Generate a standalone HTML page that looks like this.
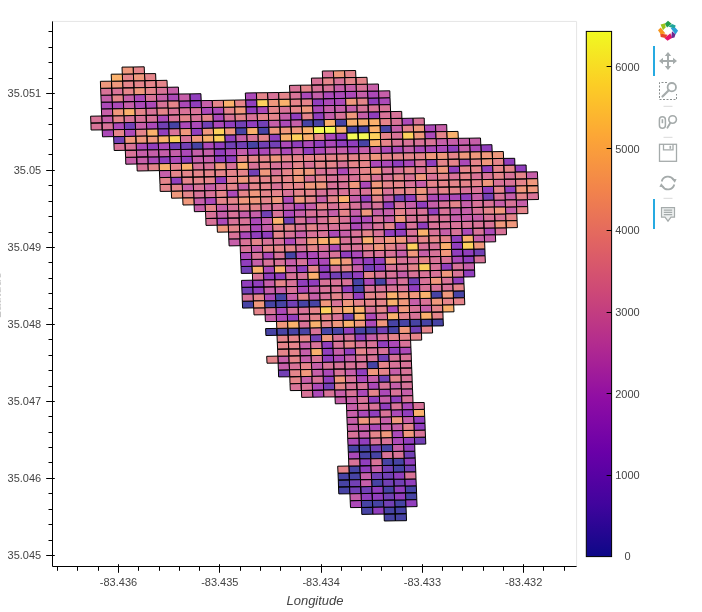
<!DOCTYPE html>
<html lang="en"><head><meta charset="utf-8"><title>Bokeh Plot</title>
<style>
html,body{margin:0;padding:0;background:#fff;}
body{width:702px;height:612px;overflow:hidden;font-family:"Liberation Sans",Helvetica,Arial,sans-serif;}
svg{display:block;position:absolute;left:0;top:0;}
.tl{font-size:11px;fill:#444;}
.al{font-size:13px;font-style:italic;fill:#444;}
.c{stroke:#000;stroke-width:1;stroke-linejoin:miter;}
</style></head><body>
<svg width="702" height="612" viewBox="0 0 702 612" font-family="Liberation Sans, Helvetica, Arial, sans-serif">
<defs><linearGradient id="pl" x1="0" y1="1" x2="0" y2="0">
<stop offset="0.0" stop-color="#0d0887"/>
<stop offset="0.1" stop-color="#41049d"/>
<stop offset="0.2" stop-color="#6a00a8"/>
<stop offset="0.3" stop-color="#8f0da4"/>
<stop offset="0.4" stop-color="#b12a90"/>
<stop offset="0.5" stop-color="#cc4778"/>
<stop offset="0.6" stop-color="#e16462"/>
<stop offset="0.7" stop-color="#f2844b"/>
<stop offset="0.8" stop-color="#fca636"/>
<stop offset="0.9" stop-color="#fcce25"/>
<stop offset="1.0" stop-color="#f0f921"/>
</linearGradient></defs>
<path d="M52.5 21.4H576.6V566.5" fill="none" stroke="#e5e5e5" stroke-width="1"/>
<g class="c">
<path fill="#4743a4" d="M168.6 121.9L179.7 121.8L180.0 128.7L168.9 128.9ZM302.0 119.9L313.1 119.7L313.3 126.7L302.2 126.8ZM313.1 119.7L324.2 119.6L324.4 126.5L313.3 126.7ZM335.3 119.4L346.4 119.2L346.7 126.2L335.6 126.3ZM235.6 127.8L246.7 127.7L246.9 134.6L235.8 134.8ZM257.8 127.5L268.9 127.3L269.2 134.3L258.1 134.4ZM346.7 126.2L357.8 126.0L358.0 132.9L346.9 133.1ZM357.8 126.0L368.9 125.8L369.2 132.7L358.0 132.9ZM380.0 125.6L391.1 125.5L391.4 132.4L380.3 132.6ZM191.7 142.4L202.8 142.2L203.0 149.2L191.9 149.3ZM247.2 141.5L258.3 141.4L258.6 148.3L247.5 148.5ZM358.3 139.8L369.4 139.7L369.7 146.6L358.6 146.8ZM284.9 252.0L296.0 251.8L296.3 258.7L285.2 258.9ZM352.6 278.7L363.7 278.5L364.0 285.4L352.9 285.6ZM374.8 278.3L386.0 278.2L386.2 285.1L375.1 285.3ZM352.9 285.6L364.0 285.4L364.3 292.4L353.2 292.5ZM275.4 293.7L286.5 293.6L286.8 300.5L275.7 300.7ZM430.9 291.4L442.0 291.2L442.3 298.1L431.2 298.3ZM453.2 291.0L464.3 290.8L464.5 297.8L453.4 298.0ZM242.3 301.2L253.4 301.0L253.7 307.9L242.6 308.1ZM264.6 300.8L275.7 300.7L275.9 307.6L264.8 307.8ZM275.7 300.7L286.8 300.5L287.0 307.4L275.9 307.6ZM297.9 300.3L309.0 300.2L309.3 307.1L298.2 307.3ZM309.0 300.2L320.1 300.0L320.4 306.9L309.3 307.1ZM387.6 319.8L398.7 319.6L399.0 326.5L387.9 326.7ZM398.7 319.6L409.8 319.4L410.1 326.4L399.0 326.5ZM409.8 319.4L420.9 319.3L421.2 326.2L410.1 326.4ZM420.9 319.3L432.0 319.1L432.3 326.0L421.2 326.2ZM432.0 319.1L443.1 318.9L443.4 325.9L432.3 326.0ZM265.6 328.6L276.8 328.4L277.0 335.3L265.9 335.5ZM276.8 328.4L287.9 328.2L288.1 335.2L277.0 335.3ZM287.9 328.2L299.0 328.1L299.2 335.0L288.1 335.2ZM299.0 328.1L310.1 327.9L310.4 334.8L299.2 335.0ZM321.2 327.7L332.3 327.5L332.6 334.5L321.5 334.6ZM332.3 327.5L343.4 327.4L343.7 334.3L332.6 334.5ZM354.5 327.2L365.6 327.0L365.9 334.0L354.8 334.1ZM365.6 327.0L376.7 326.9L377.0 333.8L365.9 334.0ZM387.9 326.7L399.0 326.5L399.2 333.5L388.1 333.6ZM367.0 361.7L378.1 361.5L378.4 368.5L367.3 368.6ZM348.0 445.2L359.1 445.1L359.4 452.0L348.3 452.2ZM359.1 445.1L370.2 444.9L370.5 451.8L359.4 452.0ZM381.3 444.7L392.5 444.6L392.7 451.5L381.6 451.7ZM359.4 452.0L370.5 451.8L370.8 458.8L359.7 458.9ZM370.5 451.8L381.6 451.7L381.9 458.6L370.8 458.8ZM381.9 458.6L393.0 458.4L393.3 465.4L382.2 465.5ZM393.0 458.4L404.1 458.3L404.4 465.2L393.3 465.4ZM348.8 466.0L359.9 465.9L360.2 472.8L349.1 473.0ZM393.3 465.4L404.4 465.2L404.6 472.1L393.5 472.3ZM338.0 473.1L349.1 473.0L349.4 479.9L338.3 480.1ZM349.1 473.0L360.2 472.8L360.5 479.7L349.4 479.9ZM338.3 480.1L349.4 479.9L349.6 486.8L338.5 487.0ZM371.6 479.6L382.7 479.4L383.0 486.3L371.9 486.5ZM338.5 487.0L349.6 486.8L349.9 493.8L338.8 493.9ZM383.0 486.3L394.1 486.2L394.3 493.1L383.2 493.3ZM405.2 486.0L416.3 485.8L416.6 492.8L405.5 492.9ZM405.5 492.9L416.6 492.8L416.8 499.7L405.7 499.9ZM361.3 500.5L372.4 500.4L372.7 507.3L361.6 507.5ZM372.4 500.4L383.5 500.2L383.8 507.1L372.7 507.3ZM394.6 500.0L405.7 499.9L406.0 506.8L394.9 507.0ZM361.6 507.5L372.7 507.3L372.9 514.2L361.8 514.4ZM383.8 507.1L394.9 507.0L395.2 513.9L384.1 514.1ZM394.9 507.0L406.0 506.8L406.3 513.7L395.2 513.9ZM384.1 514.1L395.2 513.9L395.4 520.8L384.3 521.0ZM395.2 513.9L406.3 513.7L406.5 520.7L395.4 520.8Z"/>
<path fill="#7240b5" d="M124.2 122.6L135.3 122.4L135.6 129.4L124.5 129.5ZM157.5 122.1L168.6 121.9L168.9 128.9L157.8 129.0ZM202.0 121.4L213.1 121.3L213.3 128.2L202.2 128.4ZM235.3 120.9L246.4 120.7L246.7 127.7L235.6 127.8ZM257.5 120.6L268.6 120.4L268.9 127.3L257.8 127.5ZM113.6 136.6L124.7 136.5L125.0 143.4L113.9 143.6ZM169.4 142.7L180.6 142.6L180.8 149.5L169.7 149.7ZM180.6 142.6L191.7 142.4L191.9 149.3L180.8 149.5ZM225.0 141.9L236.1 141.7L236.4 148.6L225.3 148.8ZM236.1 141.7L247.2 141.5L247.5 148.5L236.4 148.6ZM258.3 141.4L269.4 141.2L269.7 148.1L258.6 148.3ZM269.4 141.2L280.5 141.0L280.8 148.0L269.7 148.1ZM248.3 169.3L259.4 169.1L259.7 176.0L248.6 176.2ZM393.8 194.8L404.9 194.6L405.2 201.6L394.1 201.7ZM482.7 193.4L493.8 193.3L494.1 200.2L483.0 200.4ZM261.0 210.7L272.1 210.5L272.4 217.5L261.3 217.6ZM283.5 217.3L294.6 217.1L294.9 224.1L283.8 224.2ZM473.8 249.1L484.9 248.9L485.1 255.8L474.0 256.0ZM241.0 266.5L252.1 266.3L252.4 273.3L241.3 273.4ZM363.2 264.6L374.3 264.5L374.6 271.4L363.5 271.6ZM330.1 272.1L341.2 271.9L341.5 278.8L330.4 279.0ZM341.2 271.9L352.4 271.7L352.6 278.7L341.5 278.8ZM408.2 277.8L419.3 277.7L419.6 284.6L408.4 284.8ZM241.8 287.3L252.9 287.1L253.2 294.1L242.1 294.2ZM286.8 300.5L297.9 300.3L298.2 307.3L287.0 307.4ZM342.9 313.5L354.0 313.3L354.2 320.3L343.1 320.4ZM376.7 326.9L387.9 326.7L388.1 333.6L377.0 333.8ZM410.1 326.4L421.2 326.2L421.5 333.1L410.3 333.3ZM310.4 334.8L321.5 334.6L321.7 341.6L310.6 341.8ZM377.8 354.6L388.9 354.4L389.2 361.4L378.1 361.5ZM278.4 370.0L289.5 369.8L289.8 376.8L278.6 376.9ZM378.6 375.4L389.7 375.2L390.0 382.2L378.9 382.3ZM323.4 383.2L334.5 383.0L334.7 389.9L323.6 390.1ZM414.4 437.3L425.5 437.1L425.8 444.1L414.7 444.2ZM370.2 444.9L381.3 444.7L381.6 451.7L370.5 451.8ZM403.8 451.3L414.9 451.2L415.2 458.1L404.1 458.3ZM382.2 465.5L393.3 465.4L393.5 472.3L382.4 472.5ZM404.4 465.2L415.5 465.0L415.8 472.0L404.6 472.1ZM371.3 472.6L382.4 472.5L382.7 479.4L371.6 479.6ZM382.4 472.5L393.5 472.3L393.8 479.2L382.7 479.4ZM349.4 479.9L360.5 479.7L360.7 486.7L349.6 486.8ZM382.7 479.4L393.8 479.2L394.1 486.2L383.0 486.3ZM393.8 479.2L404.9 479.1L405.2 486.0L394.1 486.2ZM349.6 486.8L360.7 486.7L361.0 493.6L349.9 493.8ZM360.7 486.7L371.9 486.5L372.1 493.4L361.0 493.6ZM383.2 493.3L394.3 493.1L394.6 500.0L383.5 500.2ZM383.5 500.2L394.6 500.0L394.9 507.0L383.8 507.1Z"/>
<path fill="#913ebd" d="M189.8 93.9L200.9 93.7L201.2 100.6L190.0 100.8ZM190.0 100.8L201.2 100.6L201.4 107.6L190.3 107.7ZM245.6 99.9L256.7 99.8L257.0 106.7L245.9 106.9ZM312.3 98.9L323.4 98.8L323.6 105.7L312.5 105.9ZM367.8 98.1L378.9 97.9L379.2 104.8L368.1 105.0ZM245.9 106.9L257.0 106.7L257.2 113.6L246.1 113.8ZM290.6 113.1L301.7 113.0L302.0 119.9L290.8 120.1ZM312.8 112.8L323.9 112.6L324.2 119.6L313.1 119.7ZM368.3 111.9L379.5 111.8L379.7 118.7L368.6 118.9ZM224.2 121.1L235.3 120.9L235.6 127.8L224.5 128.0ZM246.4 120.7L257.5 120.6L257.8 127.5L246.7 127.7ZM157.8 129.0L168.9 128.9L169.2 135.8L158.1 136.0ZM191.1 128.5L202.2 128.4L202.5 135.3L191.4 135.5ZM224.7 134.9L235.8 134.8L236.1 141.7L225.0 141.9ZM269.2 134.3L280.3 134.1L280.5 141.0L269.4 141.2ZM335.8 133.3L346.9 133.1L347.2 140.0L336.1 140.2ZM147.2 143.1L158.3 142.9L158.6 149.8L147.5 150.0ZM213.9 142.0L225.0 141.9L225.3 148.8L214.2 149.0ZM291.7 140.9L302.8 140.7L303.0 147.6L291.9 147.8ZM313.9 140.5L325.0 140.4L325.3 147.3L314.1 147.5ZM336.1 140.2L347.2 140.0L347.5 146.9L336.4 147.1ZM347.2 140.0L358.3 139.8L358.6 146.8L347.5 146.9ZM214.2 149.0L225.3 148.8L225.5 155.7L214.4 155.9ZM303.0 147.6L314.1 147.5L314.4 154.4L303.3 154.6ZM447.5 145.4L458.6 145.3L458.9 152.2L447.7 152.4ZM480.8 144.9L491.9 144.7L492.2 151.7L481.1 151.8ZM158.9 156.8L170.0 156.6L170.3 163.5L159.2 163.7ZM181.1 156.4L192.2 156.3L192.5 163.2L181.4 163.4ZM214.4 155.9L225.5 155.7L225.8 162.7L214.7 162.8ZM225.5 155.7L236.7 155.6L236.9 162.5L225.8 162.7ZM392.5 160.1L403.6 160.0L403.8 166.9L392.7 167.1ZM425.8 159.6L436.9 159.5L437.2 166.4L426.1 166.6ZM503.6 158.4L514.7 158.3L514.9 165.2L503.8 165.4ZM448.3 166.2L459.4 166.1L459.7 173.0L448.6 173.2ZM481.6 165.7L492.7 165.5L493.0 172.5L481.9 172.6ZM514.9 165.2L526.1 165.0L526.3 172.0L515.2 172.1ZM170.8 177.4L181.9 177.2L182.2 184.2L171.1 184.3ZM215.2 176.7L226.4 176.5L226.6 183.5L215.5 183.6ZM482.4 186.5L493.5 186.3L493.8 193.3L482.7 193.4ZM504.6 186.2L515.8 186.0L516.0 192.9L504.9 193.1ZM360.5 195.3L371.6 195.1L371.9 202.1L360.8 202.2ZM404.9 194.6L416.0 194.5L416.3 201.4L405.2 201.6ZM460.5 193.8L471.6 193.6L471.9 200.6L460.7 200.7ZM383.0 201.9L394.1 201.7L394.4 208.7L383.2 208.8ZM416.3 201.4L427.4 201.2L427.7 208.2L416.6 208.3ZM427.7 208.2L438.8 208.0L439.1 214.9L428.0 215.1ZM394.9 222.5L406.0 222.4L406.3 229.3L395.2 229.5ZM417.1 222.2L428.2 222.0L428.5 229.0L417.4 229.1ZM250.7 231.7L261.8 231.5L262.1 238.4L251.0 238.6ZM261.8 231.5L273.0 231.3L273.2 238.3L262.1 238.4ZM384.1 229.6L395.2 229.5L395.4 236.4L384.3 236.6ZM395.2 229.5L406.3 229.3L406.5 236.2L395.4 236.4ZM451.0 235.6L462.1 235.4L462.4 242.3L451.3 242.5ZM451.3 242.5L462.4 242.3L462.6 249.3L451.5 249.4ZM340.4 251.1L351.5 250.9L351.8 257.9L340.7 258.0ZM451.5 249.4L462.6 249.3L462.9 256.2L451.8 256.4ZM462.6 249.3L473.8 249.1L474.0 256.0L462.9 256.2ZM240.7 259.6L251.8 259.4L252.1 266.3L241.0 266.5ZM362.9 257.7L374.0 257.5L374.3 264.5L363.2 264.6ZM374.0 257.5L385.1 257.4L385.4 264.3L374.3 264.5ZM462.9 256.2L474.0 256.0L474.3 262.9L463.2 263.1ZM296.5 265.7L307.6 265.5L307.9 272.4L296.8 272.6ZM318.8 265.3L329.9 265.1L330.1 272.1L319.0 272.3ZM374.3 264.5L385.4 264.3L385.7 271.2L374.6 271.4ZM441.0 263.5L452.1 263.3L452.3 270.2L441.2 270.4ZM263.5 273.1L274.6 272.9L274.9 279.9L263.7 280.0ZM274.6 272.9L285.7 272.8L286.0 279.7L274.9 279.9ZM319.0 272.3L330.1 272.1L330.4 279.0L319.3 279.2ZM352.4 271.7L363.5 271.6L363.7 278.5L352.6 278.7ZM463.5 270.0L474.6 269.9L474.8 276.8L463.7 277.0ZM241.5 280.4L252.6 280.2L252.9 287.1L241.8 287.3ZM252.6 280.2L263.7 280.0L264.0 287.0L252.9 287.1ZM297.1 279.5L308.2 279.4L308.5 286.3L297.3 286.5ZM308.2 279.4L319.3 279.2L319.6 286.1L308.5 286.3ZM452.6 277.2L463.7 277.0L464.0 283.9L452.9 284.1ZM252.9 287.1L264.0 287.0L264.3 293.9L253.2 294.1ZM341.8 285.8L352.9 285.6L353.2 292.5L342.1 292.7ZM408.4 284.8L419.6 284.6L419.8 291.5L408.7 291.7ZM353.2 292.5L364.3 292.4L364.5 299.3L353.4 299.5ZM287.3 314.4L298.4 314.2L298.7 321.1L287.6 321.3ZM343.4 327.4L354.5 327.2L354.8 334.1L343.7 334.3ZM354.8 334.1L365.9 334.0L366.2 340.9L355.1 341.1ZM321.7 341.6L332.8 341.4L333.1 348.3L322.0 348.5ZM377.3 340.7L388.4 340.6L388.7 347.5L377.6 347.7ZM322.0 348.5L333.1 348.3L333.4 355.3L322.3 355.4ZM344.2 348.2L355.3 348.0L355.6 354.9L344.5 355.1ZM388.7 347.5L399.8 347.3L400.0 354.3L388.9 354.4ZM322.3 355.4L333.4 355.3L333.7 362.2L322.5 362.4ZM356.1 368.8L367.3 368.6L367.5 375.6L356.4 375.7ZM323.1 376.2L334.2 376.1L334.5 383.0L323.4 383.2ZM368.3 396.4L379.4 396.2L379.7 403.1L368.6 403.3ZM390.6 396.0L401.7 395.9L401.9 402.8L390.8 403.0ZM379.7 403.1L390.8 403.0L391.1 409.9L380.0 410.1ZM368.9 410.2L380.0 410.1L380.3 417.0L369.2 417.2ZM402.2 409.7L413.3 409.6L413.6 416.5L402.5 416.7ZM413.6 416.5L424.7 416.3L425.0 423.3L413.9 423.4ZM413.9 423.4L425.0 423.3L425.2 430.2L414.1 430.4ZM358.9 438.1L370.0 438.0L370.2 444.9L359.1 445.1ZM403.3 437.5L414.4 437.3L414.7 444.2L403.6 444.4ZM403.6 444.4L414.7 444.2L414.9 451.2L403.8 451.3ZM359.7 458.9L370.8 458.8L371.0 465.7L359.9 465.9ZM404.1 458.3L415.2 458.1L415.5 465.0L404.4 465.2ZM359.9 465.9L371.0 465.7L371.3 472.6L360.2 472.8ZM393.5 472.3L404.6 472.1L404.9 479.1L393.8 479.2ZM404.9 479.1L416.0 478.9L416.3 485.8L405.2 486.0ZM371.9 486.5L383.0 486.3L383.2 493.3L372.1 493.4ZM394.1 486.2L405.2 486.0L405.5 492.9L394.3 493.1ZM361.0 493.6L372.1 493.4L372.4 500.4L361.3 500.5ZM372.1 493.4L383.2 493.3L383.5 500.2L372.4 500.4ZM394.3 493.1L405.5 492.9L405.7 499.9L394.6 500.0ZM405.7 499.9L416.8 499.7L417.1 506.6L406.0 506.8ZM372.7 507.3L383.8 507.1L384.1 514.1L372.9 514.2Z"/>
<path fill="#ac49b8" d="M134.2 94.7L145.3 94.5L145.6 101.5L134.5 101.6ZM167.6 94.2L178.7 94.0L178.9 101.0L167.8 101.1ZM245.3 93.0L256.4 92.8L256.7 99.8L245.6 99.9ZM300.9 92.2L312.0 92.0L312.3 98.9L301.1 99.1ZM323.1 91.8L334.2 91.7L334.5 98.6L323.4 98.8ZM334.2 91.7L345.3 91.5L345.6 98.4L334.5 98.6ZM345.3 91.5L356.4 91.3L356.7 98.2L345.6 98.4ZM367.5 91.1L378.6 91.0L378.9 97.9L367.8 98.1ZM101.2 102.1L112.3 102.0L112.5 108.9L101.4 109.1ZM112.3 102.0L123.4 101.8L123.7 108.7L112.5 108.9ZM134.5 101.6L145.6 101.5L145.9 108.4L134.8 108.6ZM145.6 101.5L156.7 101.3L157.0 108.2L145.9 108.4ZM178.9 101.0L190.0 100.8L190.3 107.7L179.2 107.9ZM323.4 98.8L334.5 98.6L334.7 105.5L323.6 105.7ZM334.5 98.6L345.6 98.4L345.9 105.4L334.7 105.5ZM378.9 97.9L390.0 97.7L390.3 104.7L379.2 104.8ZM201.4 107.6L212.5 107.4L212.8 114.3L201.7 114.5ZM212.5 107.4L223.6 107.2L223.9 114.1L212.8 114.3ZM257.0 106.7L268.1 106.5L268.4 113.5L257.2 113.6ZM312.5 105.9L323.6 105.7L323.9 112.6L312.8 112.8ZM157.3 115.2L168.4 115.0L168.6 121.9L157.5 122.1ZM212.8 114.3L223.9 114.1L224.2 121.1L213.1 121.3ZM113.1 122.8L124.2 122.6L124.5 129.5L113.4 129.7ZM146.4 122.3L157.5 122.1L157.8 129.0L146.7 129.2ZM179.7 121.8L190.9 121.6L191.1 128.5L180.0 128.7ZM190.9 121.6L202.0 121.4L202.2 128.4L191.1 128.5ZM213.1 121.3L224.2 121.1L224.5 128.0L213.3 128.2ZM279.7 120.2L290.8 120.1L291.1 127.0L280.0 127.2ZM401.9 118.4L413.1 118.2L413.3 125.1L402.2 125.3ZM102.2 129.9L113.4 129.7L113.6 136.6L102.5 136.8ZM124.5 129.5L135.6 129.4L135.8 136.3L124.7 136.5ZM424.4 125.0L435.5 124.8L435.8 131.7L424.7 131.9ZM324.7 133.4L335.8 133.3L336.1 140.2L325.0 140.4ZM424.7 131.9L435.8 131.7L436.1 138.7L425.0 138.8ZM136.1 143.2L147.2 143.1L147.5 150.0L136.4 150.2ZM158.3 142.9L169.4 142.7L169.7 149.7L158.6 149.8ZM202.8 142.2L213.9 142.0L214.2 149.0L203.0 149.2ZM280.5 141.0L291.7 140.9L291.9 147.8L280.8 148.0ZM302.8 140.7L313.9 140.5L314.1 147.5L303.0 147.6ZM325.0 140.4L336.1 140.2L336.4 147.1L325.3 147.3ZM180.8 149.5L191.9 149.3L192.2 156.3L181.1 156.4ZM225.3 148.8L236.4 148.6L236.7 155.6L225.5 155.7ZM247.5 148.5L258.6 148.3L258.9 155.2L247.8 155.4ZM258.6 148.3L269.7 148.1L270.0 155.1L258.9 155.2ZM280.8 148.0L291.9 147.8L292.2 154.7L281.1 154.9ZM314.1 147.5L325.3 147.3L325.5 154.2L314.4 154.4ZM347.5 146.9L358.6 146.8L358.9 153.7L347.8 153.9ZM380.8 146.4L391.9 146.3L392.2 153.2L381.1 153.4ZM391.9 146.3L403.0 146.1L403.3 153.0L392.2 153.2ZM414.1 145.9L425.2 145.8L425.5 152.7L414.4 152.9ZM425.2 145.8L436.4 145.6L436.6 152.5L425.5 152.7ZM436.4 145.6L447.5 145.4L447.7 152.4L436.6 152.5ZM469.7 145.1L480.8 144.9L481.1 151.8L470.0 152.0ZM147.8 156.9L158.9 156.8L159.2 163.7L148.0 163.9ZM170.0 156.6L181.1 156.4L181.4 163.4L170.3 163.5ZM370.2 160.5L381.4 160.3L381.6 167.2L370.5 167.4ZM381.4 160.3L392.5 160.1L392.7 167.1L381.6 167.2ZM403.6 160.0L414.7 159.8L415.0 166.7L403.8 166.9ZM459.1 159.1L470.2 159.0L470.5 165.9L459.4 166.1ZM337.2 167.9L348.3 167.7L348.6 174.7L337.5 174.9ZM359.9 181.4L371.1 181.3L371.3 188.2L360.2 188.4ZM226.9 190.4L238.0 190.2L238.3 197.2L227.2 197.3ZM204.9 197.7L216.1 197.5L216.3 204.4L205.2 204.6ZM282.7 196.5L293.8 196.3L294.1 203.3L283.0 203.4ZM427.1 194.3L438.3 194.1L438.5 201.1L427.4 201.2ZM438.3 194.1L449.4 194.0L449.6 200.9L438.5 201.1ZM449.4 194.0L460.5 193.8L460.7 200.7L449.6 200.9ZM294.1 203.3L305.2 203.1L305.5 210.0L294.4 210.2ZM283.3 210.4L294.4 210.2L294.6 217.1L283.5 217.3ZM216.9 218.3L228.0 218.1L228.2 225.1L217.1 225.2ZM250.2 217.8L261.3 217.6L261.6 224.6L250.5 224.7ZM350.2 216.3L361.3 216.1L361.6 223.0L350.5 223.2ZM361.3 216.1L372.4 215.9L372.7 222.9L361.6 223.0ZM250.5 224.7L261.6 224.6L261.8 231.5L250.7 231.7ZM350.5 223.2L361.6 223.0L361.8 230.0L350.7 230.1ZM239.6 231.8L250.7 231.7L251.0 238.6L239.9 238.8ZM328.5 230.5L339.6 230.3L339.9 237.2L328.8 237.4ZM461.8 228.5L472.9 228.3L473.2 235.2L462.1 235.4ZM484.0 228.1L495.2 227.9L495.4 234.9L484.3 235.0ZM284.3 238.1L295.4 237.9L295.7 244.9L284.6 245.0ZM329.1 244.4L340.2 244.2L340.4 251.1L329.3 251.3ZM240.4 252.6L251.6 252.5L251.8 259.4L240.7 259.6ZM262.7 252.3L273.8 252.1L274.0 259.1L262.9 259.2ZM296.0 251.8L307.1 251.6L307.4 258.6L296.3 258.7ZM307.1 251.6L318.2 251.5L318.5 258.4L307.4 258.6ZM351.5 250.9L362.7 250.8L362.9 257.7L351.8 257.9ZM307.4 258.6L318.5 258.4L318.8 265.3L307.6 265.5ZM318.5 258.4L329.6 258.2L329.9 265.1L318.8 265.3ZM351.8 257.9L362.9 257.7L363.2 264.6L352.1 264.8ZM451.8 256.4L462.9 256.2L463.2 263.1L452.1 263.3ZM263.2 266.2L274.3 266.0L274.6 272.9L263.5 273.1ZM363.7 278.5L374.8 278.3L375.1 285.3L364.0 285.4ZM297.3 286.5L308.5 286.3L308.7 293.2L297.6 293.4ZM264.3 293.9L275.4 293.7L275.7 300.7L264.6 300.8ZM275.9 307.6L287.0 307.4L287.3 314.4L276.2 314.5ZM387.0 305.9L398.1 305.7L398.4 312.7L387.3 312.8ZM276.2 314.5L287.3 314.4L287.6 321.3L276.5 321.5ZM365.1 313.2L376.2 313.0L376.5 319.9L365.4 320.1ZM365.4 320.1L376.5 319.9L376.7 326.9L365.6 327.0ZM388.4 340.6L399.5 340.4L399.8 347.3L388.7 347.5ZM399.8 347.3L410.9 347.2L411.2 354.1L400.0 354.3ZM333.4 355.3L344.5 355.1L344.8 362.0L333.7 362.2ZM322.8 369.3L333.9 369.1L334.2 376.1L323.1 376.2ZM356.4 375.7L367.5 375.6L367.8 382.5L356.7 382.7ZM312.2 383.3L323.4 383.2L323.6 390.1L312.5 390.3ZM367.8 382.5L378.9 382.3L379.2 389.3L368.1 389.4ZM312.5 390.3L323.6 390.1L323.9 397.0L312.8 397.2ZM357.0 389.6L368.1 389.4L368.3 396.4L357.2 396.5ZM379.2 389.3L390.3 389.1L390.6 396.0L379.4 396.2ZM401.9 402.8L413.0 402.6L413.3 409.6L402.2 409.7ZM357.8 410.4L368.9 410.2L369.2 417.2L358.0 417.3ZM391.1 409.9L402.2 409.7L402.5 416.7L391.4 416.8ZM369.4 424.1L380.5 423.9L380.8 430.9L369.7 431.0ZM391.9 430.7L403.0 430.5L403.3 437.5L392.2 437.6ZM347.7 438.3L358.9 438.1L359.1 445.1L348.0 445.2ZM392.2 437.6L403.3 437.5L403.6 444.4L392.5 444.6ZM348.3 452.2L359.4 452.0L359.7 458.9L348.6 459.1ZM350.2 500.7L361.3 500.5L361.6 507.5L350.5 507.6Z"/>
<path fill="#c65fa9" d="M167.3 87.3L178.4 87.1L178.7 94.0L167.6 94.2ZM333.9 84.7L345.0 84.6L345.3 91.5L334.2 91.7ZM345.0 84.6L356.2 84.4L356.4 91.3L345.3 91.5ZM367.3 84.2L378.4 84.0L378.6 91.0L367.5 91.1ZM100.9 95.2L112.0 95.0L112.3 102.0L101.2 102.1ZM123.1 94.9L134.2 94.7L134.5 101.6L123.4 101.8ZM156.4 94.4L167.6 94.2L167.8 101.1L156.7 101.3ZM178.7 94.0L189.8 93.9L190.0 100.8L178.9 101.0ZM312.0 92.0L323.1 91.8L323.4 98.8L312.3 98.9ZM356.4 91.3L367.5 91.1L367.8 98.1L356.7 98.2ZM378.6 91.0L389.8 90.8L390.0 97.7L378.9 97.9ZM123.4 101.8L134.5 101.6L134.8 108.6L123.7 108.7ZM201.2 100.6L212.3 100.5L212.5 107.4L201.4 107.6ZM101.4 109.1L112.5 108.9L112.8 115.8L101.7 116.0ZM323.6 105.7L334.7 105.5L335.0 112.5L323.9 112.6ZM334.7 105.5L345.9 105.4L346.1 112.3L335.0 112.5ZM345.9 105.4L357.0 105.2L357.2 112.1L346.1 112.3ZM101.7 116.0L112.8 115.8L113.1 122.8L102.0 122.9ZM279.5 113.3L290.6 113.1L290.8 120.1L279.7 120.2ZM323.9 112.6L335.0 112.5L335.3 119.4L324.2 119.6ZM357.2 112.1L368.3 111.9L368.6 118.9L357.5 119.0ZM135.3 122.4L146.4 122.3L146.7 129.2L135.6 129.4ZM268.6 120.4L279.7 120.2L280.0 127.2L268.9 127.3ZM290.8 120.1L302.0 119.9L302.2 126.8L291.1 127.0ZM391.1 125.5L402.2 125.3L402.5 132.2L391.4 132.4ZM435.5 124.8L446.7 124.6L446.9 131.6L435.8 131.7ZM235.8 134.8L246.9 134.6L247.2 141.5L236.1 141.7ZM436.1 138.7L447.2 138.5L447.5 145.4L436.4 145.6ZM447.2 138.5L458.3 138.3L458.6 145.3L447.5 145.4ZM458.3 138.3L469.4 138.2L469.7 145.1L458.6 145.3ZM469.4 138.2L480.5 138.0L480.8 144.9L469.7 145.1ZM136.4 150.2L147.5 150.0L147.8 156.9L136.7 157.1ZM147.5 150.0L158.6 149.8L158.9 156.8L147.8 156.9ZM158.6 149.8L169.7 149.7L170.0 156.6L158.9 156.8ZM169.7 149.7L180.8 149.5L181.1 156.4L170.0 156.6ZM191.9 149.3L203.0 149.2L203.3 156.1L192.2 156.3ZM203.0 149.2L214.2 149.0L214.4 155.9L203.3 156.1ZM236.4 148.6L247.5 148.5L247.8 155.4L236.7 155.6ZM269.7 148.1L280.8 148.0L281.1 154.9L270.0 155.1ZM291.9 147.8L303.0 147.6L303.3 154.6L292.2 154.7ZM325.3 147.3L336.4 147.1L336.6 154.1L325.5 154.2ZM336.4 147.1L347.5 146.9L347.8 153.9L336.6 154.1ZM358.6 146.8L369.7 146.6L370.0 153.5L358.9 153.7ZM369.7 146.6L380.8 146.4L381.1 153.4L370.0 153.5ZM403.0 146.1L414.1 145.9L414.4 152.9L403.3 153.0ZM458.6 145.3L469.7 145.1L470.0 152.0L458.9 152.2ZM125.6 157.3L136.7 157.1L136.9 164.0L125.8 164.2ZM136.7 157.1L147.8 156.9L148.0 163.9L136.9 164.0ZM192.2 156.3L203.3 156.1L203.6 163.0L192.5 163.2ZM203.3 156.1L214.4 155.9L214.7 162.8L203.6 163.0ZM159.4 170.6L170.5 170.5L170.8 177.4L159.7 177.6ZM526.3 172.0L537.4 171.8L537.7 178.7L526.6 178.9ZM182.2 184.2L193.3 184.0L193.6 190.9L182.5 191.1ZM204.4 183.8L215.5 183.6L215.8 190.6L204.7 190.8ZM237.7 183.3L248.8 183.1L249.1 190.1L238.0 190.2ZM415.5 180.6L426.6 180.4L426.9 187.4L415.8 187.5ZM193.8 197.9L204.9 197.7L205.2 204.6L194.1 204.8ZM316.0 196.0L327.2 195.8L327.4 202.8L316.3 202.9ZM349.4 195.5L360.5 195.3L360.8 202.2L349.6 202.4ZM382.7 195.0L393.8 194.8L394.1 201.7L383.0 201.9ZM471.6 193.6L482.7 193.4L483.0 200.4L471.9 200.6ZM504.9 193.1L516.0 192.9L516.3 199.9L505.2 200.0ZM194.1 204.8L205.2 204.6L205.5 211.5L194.4 211.7ZM216.3 204.4L227.4 204.3L227.7 211.2L216.6 211.4ZM283.0 203.4L294.1 203.3L294.4 210.2L283.3 210.4ZM305.2 203.1L316.3 202.9L316.6 209.9L305.5 210.0ZM360.8 202.2L371.9 202.1L372.1 209.0L361.0 209.2ZM405.2 201.6L416.3 201.4L416.6 208.3L405.5 208.5ZM427.4 201.2L438.5 201.1L438.8 208.0L427.7 208.2ZM460.7 200.7L471.9 200.6L472.1 207.5L461.0 207.7ZM494.1 200.2L505.2 200.0L505.5 207.0L494.3 207.1ZM516.3 199.9L527.4 199.7L527.7 206.6L516.6 206.8ZM216.6 211.4L227.7 211.2L228.0 218.1L216.9 218.3ZM238.8 211.0L249.9 210.9L250.2 217.8L239.1 218.0ZM249.9 210.9L261.0 210.7L261.3 217.6L250.2 217.8ZM294.4 210.2L305.5 210.0L305.7 217.0L294.6 217.1ZM327.7 209.7L338.8 209.5L339.1 216.4L328.0 216.6ZM349.9 209.3L361.0 209.2L361.3 216.1L350.2 216.3ZM372.1 209.0L383.2 208.8L383.5 215.8L372.4 215.9ZM383.2 208.8L394.4 208.7L394.6 215.6L383.5 215.8ZM449.9 207.8L461.0 207.7L461.3 214.6L450.2 214.8ZM461.0 207.7L472.1 207.5L472.4 214.4L461.3 214.6ZM505.5 207.0L516.6 206.8L516.8 213.7L505.7 213.9ZM261.3 217.6L272.4 217.5L272.7 224.4L261.6 224.6ZM305.7 217.0L316.9 216.8L317.1 223.7L306.0 223.9ZM383.5 215.8L394.6 215.6L394.9 222.5L383.8 222.7ZM450.2 214.8L461.3 214.6L461.6 221.5L450.4 221.7ZM461.3 214.6L472.4 214.4L472.7 221.3L461.6 221.5ZM472.4 214.4L483.5 214.2L483.8 221.2L472.7 221.3ZM261.6 224.6L272.7 224.4L273.0 231.3L261.8 231.5ZM361.6 223.0L372.7 222.9L372.9 229.8L361.8 230.0ZM295.2 231.0L306.3 230.8L306.6 237.8L295.4 237.9ZM339.6 230.3L350.7 230.1L351.0 237.1L339.9 237.2ZM439.6 228.8L450.7 228.6L451.0 235.6L439.9 235.7ZM228.8 238.9L239.9 238.8L240.2 245.7L229.1 245.9ZM473.2 235.2L484.3 235.0L484.6 242.0L473.5 242.1ZM484.3 235.0L495.4 234.9L495.7 241.8L484.6 242.0ZM251.3 245.5L262.4 245.4L262.7 252.3L251.6 252.5ZM318.2 251.5L329.3 251.3L329.6 258.2L318.5 258.4ZM396.0 250.3L407.1 250.1L407.4 257.0L396.3 257.2ZM418.2 249.9L429.3 249.8L429.6 256.7L418.5 256.9ZM251.8 259.4L262.9 259.2L263.2 266.2L252.1 266.3ZM285.2 258.9L296.3 258.7L296.5 265.7L285.4 265.8ZM285.4 265.8L296.5 265.7L296.8 272.6L285.7 272.8ZM352.1 264.8L363.2 264.6L363.5 271.6L352.4 271.7ZM463.2 263.1L474.3 262.9L474.6 269.9L463.5 270.0ZM396.8 271.1L407.9 270.9L408.2 277.8L397.1 278.0ZM263.7 280.0L274.9 279.9L275.1 286.8L264.0 287.0ZM386.0 278.2L397.1 278.0L397.3 284.9L386.2 285.1ZM264.0 287.0L275.1 286.8L275.4 293.7L264.3 293.9ZM275.1 286.8L286.2 286.6L286.5 293.6L275.4 293.7ZM308.5 286.3L319.6 286.1L319.8 293.1L308.7 293.2ZM286.5 293.6L297.6 293.4L297.9 300.3L286.8 300.5ZM308.7 293.2L319.8 293.1L320.1 300.0L309.0 300.2ZM409.0 298.6L420.1 298.5L420.4 305.4L409.3 305.6ZM420.4 305.4L431.5 305.2L431.7 312.2L420.6 312.3ZM265.1 314.7L276.2 314.5L276.5 321.5L265.4 321.6ZM365.9 334.0L377.0 333.8L377.3 340.7L366.2 340.9ZM299.5 341.9L310.6 341.8L310.9 348.7L299.8 348.9ZM299.8 348.9L310.9 348.7L311.2 355.6L300.1 355.8ZM333.1 348.3L344.2 348.2L344.5 355.1L333.4 355.3ZM277.8 356.1L288.9 356.0L289.2 362.9L278.1 363.1ZM300.1 355.8L311.2 355.6L311.4 362.6L300.3 362.7ZM344.5 355.1L355.6 354.9L355.9 361.9L344.8 362.0ZM278.1 363.1L289.2 362.9L289.5 369.8L278.4 370.0ZM311.4 362.6L322.5 362.4L322.8 369.3L311.7 369.5ZM311.7 369.5L322.8 369.3L323.1 376.2L312.0 376.4ZM345.0 369.0L356.1 368.8L356.4 375.7L345.3 375.9ZM389.5 368.3L400.6 368.1L400.9 375.1L389.7 375.2ZM300.9 376.6L312.0 376.4L312.2 383.3L301.1 383.5ZM367.5 375.6L378.6 375.4L378.9 382.3L367.8 382.5ZM390.0 382.2L401.1 382.0L401.4 388.9L390.3 389.1ZM334.7 389.9L345.8 389.8L346.1 396.7L335.0 396.9ZM401.4 388.9L412.5 388.8L412.8 395.7L401.7 395.9ZM335.0 396.9L346.1 396.7L346.4 403.6L335.3 403.8ZM346.1 396.7L357.2 396.5L357.5 403.5L346.4 403.6ZM379.4 396.2L390.6 396.0L390.8 403.0L379.7 403.1ZM346.4 403.6L357.5 403.5L357.8 410.4L346.7 410.6ZM346.7 410.6L357.8 410.4L358.0 417.3L346.9 417.5ZM346.9 417.5L358.0 417.3L358.3 424.3L347.2 424.4ZM380.3 417.0L391.4 416.8L391.6 423.8L380.5 423.9ZM402.5 416.7L413.6 416.5L413.9 423.4L402.8 423.6ZM347.2 424.4L358.3 424.3L358.6 431.2L347.5 431.4ZM358.3 424.3L369.4 424.1L369.7 431.0L358.6 431.2ZM380.5 423.9L391.6 423.8L391.9 430.7L380.8 430.9ZM391.6 423.8L402.8 423.6L403.0 430.5L391.9 430.7ZM358.6 431.2L369.7 431.0L370.0 438.0L358.9 438.1ZM392.5 444.6L403.6 444.4L403.8 451.3L392.7 451.5ZM371.0 465.7L382.2 465.5L382.4 472.5L371.3 472.6ZM360.2 472.8L371.3 472.6L371.6 479.6L360.5 479.7ZM360.5 479.7L371.6 479.6L371.9 486.5L360.7 486.7ZM349.9 493.8L361.0 493.6L361.3 500.5L350.2 500.7Z"/>
<path fill="#d87398" d="M322.3 71.0L333.4 70.9L333.7 77.8L322.6 78.0ZM311.4 78.1L322.6 78.0L322.8 84.9L311.7 85.1ZM333.7 77.8L344.8 77.6L345.0 84.6L333.9 84.7ZM100.6 88.3L111.7 88.1L112.0 95.0L100.9 95.2ZM111.7 88.1L122.8 87.9L123.1 94.9L112.0 95.0ZM156.2 87.4L167.3 87.3L167.6 94.2L156.4 94.4ZM289.5 85.4L300.6 85.2L300.9 92.2L289.8 92.3ZM311.7 85.1L322.8 84.9L323.1 91.8L312.0 92.0ZM322.8 84.9L333.9 84.7L334.2 91.7L323.1 91.8ZM356.2 84.4L367.3 84.2L367.5 91.1L356.4 91.3ZM145.3 94.5L156.4 94.4L156.7 101.3L145.6 101.5ZM267.5 92.7L278.7 92.5L278.9 99.4L267.8 99.6ZM289.8 92.3L300.9 92.2L301.1 99.1L290.0 99.3ZM156.7 101.3L167.8 101.1L168.1 108.1L157.0 108.2ZM145.9 108.4L157.0 108.2L157.3 115.2L146.1 115.3ZM168.1 108.1L179.2 107.9L179.5 114.8L168.4 115.0ZM179.2 107.9L190.3 107.7L190.6 114.7L179.5 114.8ZM190.3 107.7L201.4 107.6L201.7 114.5L190.6 114.7ZM279.2 106.4L290.3 106.2L290.6 113.1L279.5 113.3ZM357.0 105.2L368.1 105.0L368.3 111.9L357.2 112.1ZM368.1 105.0L379.2 104.8L379.5 111.8L368.3 111.9ZM379.2 104.8L390.3 104.7L390.6 111.6L379.5 111.8ZM90.6 116.2L101.7 116.0L102.0 122.9L90.9 123.1ZM123.9 115.7L135.0 115.5L135.3 122.4L124.2 122.6ZM135.0 115.5L146.1 115.3L146.4 122.3L135.3 122.4ZM146.1 115.3L157.3 115.2L157.5 122.1L146.4 122.3ZM168.4 115.0L179.5 114.8L179.7 121.8L168.6 121.9ZM190.6 114.7L201.7 114.5L202.0 121.4L190.9 121.6ZM223.9 114.1L235.0 114.0L235.3 120.9L224.2 121.1ZM246.1 113.8L257.2 113.6L257.5 120.6L246.4 120.7ZM335.0 112.5L346.1 112.3L346.4 119.2L335.3 119.4ZM379.5 111.8L390.6 111.6L390.8 118.5L379.7 118.7ZM390.6 111.6L401.7 111.4L401.9 118.4L390.8 118.5ZM90.9 123.1L102.0 122.9L102.2 129.9L91.1 130.0ZM102.0 122.9L113.1 122.8L113.4 129.7L102.2 129.9ZM390.8 118.5L401.9 118.4L402.2 125.3L391.1 125.5ZM413.1 118.2L424.2 118.0L424.4 125.0L413.3 125.1ZM168.9 128.9L180.0 128.7L180.3 135.6L169.2 135.8ZM180.3 135.6L191.4 135.5L191.7 142.4L180.6 142.6ZM246.9 134.6L258.1 134.4L258.3 141.4L247.2 141.5ZM391.4 132.4L402.5 132.2L402.8 139.2L391.6 139.3ZM113.9 143.6L125.0 143.4L125.3 150.3L114.2 150.5ZM125.0 143.4L136.1 143.2L136.4 150.2L125.3 150.3ZM391.6 139.3L402.8 139.2L403.0 146.1L391.9 146.3ZM402.8 139.2L413.9 139.0L414.1 145.9L403.0 146.1ZM413.9 139.0L425.0 138.8L425.2 145.8L414.1 145.9ZM425.0 138.8L436.1 138.7L436.4 145.6L425.2 145.8ZM125.3 150.3L136.4 150.2L136.7 157.1L125.6 157.3ZM136.9 164.0L148.0 163.9L148.3 170.8L137.2 171.0ZM192.5 163.2L203.6 163.0L203.9 170.0L192.8 170.1ZM203.6 163.0L214.7 162.8L215.0 169.8L203.9 170.0ZM225.8 162.7L236.9 162.5L237.2 169.4L226.1 169.6ZM248.0 162.3L259.1 162.2L259.4 169.1L248.3 169.3ZM270.3 162.0L281.4 161.8L281.6 168.8L270.5 168.9ZM281.4 161.8L292.5 161.7L292.7 168.6L281.6 168.8ZM303.6 161.5L314.7 161.3L315.0 168.3L303.9 168.4ZM336.9 161.0L348.0 160.8L348.3 167.7L337.2 167.9ZM414.7 159.8L425.8 159.6L426.1 166.6L415.0 166.7ZM270.5 168.9L281.6 168.8L281.9 175.7L270.8 175.9ZM315.0 168.3L326.1 168.1L326.3 175.0L315.2 175.2ZM326.1 168.1L337.2 167.9L337.5 174.9L326.3 175.0ZM348.3 167.7L359.4 167.6L359.7 174.5L348.6 174.7ZM381.6 167.2L392.7 167.1L393.0 174.0L381.9 174.2ZM392.7 167.1L403.8 166.9L404.1 173.8L393.0 174.0ZM415.0 166.7L426.1 166.6L426.3 173.5L415.2 173.7ZM304.1 175.4L315.2 175.2L315.5 182.1L304.4 182.3ZM326.3 175.0L337.5 174.9L337.7 181.8L326.6 182.0ZM337.5 174.9L348.6 174.7L348.8 181.6L337.7 181.8ZM348.6 174.7L359.7 174.5L359.9 181.4L348.8 181.6ZM370.8 174.3L381.9 174.2L382.2 181.1L371.1 181.3ZM381.9 174.2L393.0 174.0L393.3 180.9L382.2 181.1ZM404.1 173.8L415.2 173.7L415.5 180.6L404.4 180.8ZM426.3 173.5L437.4 173.3L437.7 180.3L426.6 180.4ZM448.6 173.2L459.7 173.0L459.9 179.9L448.8 180.1ZM470.8 172.8L481.9 172.6L482.2 179.6L471.0 179.8ZM481.9 172.6L493.0 172.5L493.3 179.4L482.2 179.6ZM504.1 172.3L515.2 172.1L515.5 179.1L504.4 179.2ZM193.3 184.0L204.4 183.8L204.7 190.8L193.6 190.9ZM215.5 183.6L226.6 183.5L226.9 190.4L215.8 190.6ZM271.1 182.8L282.2 182.6L282.4 189.6L271.3 189.7ZM326.6 182.0L337.7 181.8L338.0 188.7L326.9 188.9ZM337.7 181.8L348.8 181.6L349.1 188.5L338.0 188.7ZM404.4 180.8L415.5 180.6L415.8 187.5L404.7 187.7ZM493.3 179.4L504.4 179.2L504.6 186.2L493.5 186.3ZM504.4 179.2L515.5 179.1L515.8 186.0L504.6 186.2ZM193.6 190.9L204.7 190.8L204.9 197.7L193.8 197.9ZM204.7 190.8L215.8 190.6L216.1 197.5L204.9 197.7ZM282.4 189.6L293.6 189.4L293.8 196.3L282.7 196.5ZM315.8 189.1L326.9 188.9L327.2 195.8L316.0 196.0ZM326.9 188.9L338.0 188.7L338.3 195.7L327.2 195.8ZM338.0 188.7L349.1 188.5L349.4 195.5L338.3 195.7ZM349.1 188.5L360.2 188.4L360.5 195.3L349.4 195.5ZM360.2 188.4L371.3 188.2L371.6 195.1L360.5 195.3ZM382.4 188.0L393.5 187.9L393.8 194.8L382.7 195.0ZM426.9 187.4L438.0 187.2L438.3 194.1L427.1 194.3ZM460.2 186.9L471.3 186.7L471.6 193.6L460.5 193.8ZM471.3 186.7L482.4 186.5L482.7 193.4L471.6 193.6ZM493.8 193.3L504.9 193.1L505.2 200.0L494.1 200.2ZM527.1 192.8L538.2 192.6L538.5 199.5L527.4 199.7ZM227.4 204.3L238.5 204.1L238.8 211.0L227.7 211.2ZM260.8 203.8L271.9 203.6L272.1 210.5L261.0 210.7ZM271.9 203.6L283.0 203.4L283.3 210.4L272.1 210.5ZM327.4 202.8L338.5 202.6L338.8 209.5L327.7 209.7ZM349.6 202.4L360.8 202.2L361.0 209.2L349.9 209.3ZM371.9 202.1L383.0 201.9L383.2 208.8L372.1 209.0ZM394.1 201.7L405.2 201.6L405.5 208.5L394.4 208.7ZM438.5 201.1L449.6 200.9L449.9 207.8L438.8 208.0ZM471.9 200.6L483.0 200.4L483.2 207.3L472.1 207.5ZM483.0 200.4L494.1 200.2L494.3 207.1L483.2 207.3ZM505.2 200.0L516.3 199.9L516.6 206.8L505.5 207.0ZM205.5 211.5L216.6 211.4L216.9 218.3L205.8 218.5ZM227.7 211.2L238.8 211.0L239.1 218.0L228.0 218.1ZM272.1 210.5L283.3 210.4L283.5 217.3L272.4 217.5ZM305.5 210.0L316.6 209.9L316.9 216.8L305.7 217.0ZM316.6 209.9L327.7 209.7L328.0 216.6L316.9 216.8ZM405.5 208.5L416.6 208.3L416.8 215.3L405.7 215.4ZM416.6 208.3L427.7 208.2L428.0 215.1L416.8 215.3ZM438.8 208.0L449.9 207.8L450.2 214.8L439.1 214.9ZM472.1 207.5L483.2 207.3L483.5 214.2L472.4 214.4ZM205.8 218.5L216.9 218.3L217.1 225.2L206.0 225.4ZM228.0 218.1L239.1 218.0L239.4 224.9L228.2 225.1ZM239.1 218.0L250.2 217.8L250.5 224.7L239.4 224.9ZM294.6 217.1L305.7 217.0L306.0 223.9L294.9 224.1ZM316.9 216.8L328.0 216.6L328.2 223.6L317.1 223.7ZM339.1 216.4L350.2 216.3L350.5 223.2L339.3 223.4ZM372.4 215.9L383.5 215.8L383.8 222.7L372.7 222.9ZM405.7 215.4L416.8 215.3L417.1 222.2L406.0 222.4ZM416.8 215.3L428.0 215.1L428.2 222.0L417.1 222.2ZM428.0 215.1L439.1 214.9L439.3 221.9L428.2 222.0ZM439.1 214.9L450.2 214.8L450.4 221.7L439.3 221.9ZM483.5 214.2L494.6 214.1L494.9 221.0L483.8 221.2ZM494.6 214.1L505.7 213.9L506.0 220.8L494.9 221.0ZM239.4 224.9L250.5 224.7L250.7 231.7L239.6 231.8ZM294.9 224.1L306.0 223.9L306.3 230.8L295.2 231.0ZM317.1 223.7L328.2 223.6L328.5 230.5L317.4 230.7ZM328.2 223.6L339.3 223.4L339.6 230.3L328.5 230.5ZM339.3 223.4L350.5 223.2L350.7 230.1L339.6 230.3ZM372.7 222.9L383.8 222.7L384.1 229.6L372.9 229.8ZM406.0 222.4L417.1 222.2L417.4 229.1L406.3 229.3ZM428.2 222.0L439.3 221.9L439.6 228.8L428.5 229.0ZM439.3 221.9L450.4 221.7L450.7 228.6L439.6 228.8ZM450.4 221.7L461.6 221.5L461.8 228.5L450.7 228.6ZM461.6 221.5L472.7 221.3L472.9 228.3L461.8 228.5ZM472.7 221.3L483.8 221.2L484.0 228.1L472.9 228.3ZM483.8 221.2L494.9 221.0L495.2 227.9L484.0 228.1ZM228.5 232.0L239.6 231.8L239.9 238.8L228.8 238.9ZM284.1 231.2L295.2 231.0L295.4 237.9L284.3 238.1ZM306.3 230.8L317.4 230.7L317.7 237.6L306.6 237.8ZM317.4 230.7L328.5 230.5L328.8 237.4L317.7 237.6ZM350.7 230.1L361.8 230.0L362.1 236.9L351.0 237.1ZM372.9 229.8L384.1 229.6L384.3 236.6L373.2 236.7ZM406.3 229.3L417.4 229.1L417.7 236.1L406.5 236.2ZM428.5 229.0L439.6 228.8L439.9 235.7L428.8 235.9ZM450.7 228.6L461.8 228.5L462.1 235.4L451.0 235.6ZM472.9 228.3L484.0 228.1L484.3 235.0L473.2 235.2ZM495.2 227.9L506.3 227.8L506.5 234.7L495.4 234.9ZM239.9 238.8L251.0 238.6L251.3 245.5L240.2 245.7ZM262.1 238.4L273.2 238.3L273.5 245.2L262.4 245.4ZM273.2 238.3L284.3 238.1L284.6 245.0L273.5 245.2ZM295.4 237.9L306.6 237.8L306.8 244.7L295.7 244.9ZM339.9 237.2L351.0 237.1L351.3 244.0L340.2 244.2ZM351.0 237.1L362.1 236.9L362.4 243.8L351.3 244.0ZM406.5 236.2L417.7 236.1L417.9 243.0L406.8 243.2ZM240.2 245.7L251.3 245.5L251.6 252.5L240.4 252.6ZM295.7 244.9L306.8 244.7L307.1 251.6L296.0 251.8ZM317.9 244.5L329.1 244.4L329.3 251.3L318.2 251.5ZM340.2 244.2L351.3 244.0L351.5 250.9L340.4 251.1ZM351.3 244.0L362.4 243.8L362.7 250.8L351.5 250.9ZM395.7 243.3L406.8 243.2L407.1 250.1L396.0 250.3ZM417.9 243.0L429.0 242.8L429.3 249.8L418.2 249.9ZM429.0 242.8L440.2 242.7L440.4 249.6L429.3 249.8ZM251.6 252.5L262.7 252.3L262.9 259.2L251.8 259.4ZM273.8 252.1L284.9 252.0L285.2 258.9L274.0 259.1ZM329.3 251.3L340.4 251.1L340.7 258.0L329.6 258.2ZM362.7 250.8L373.8 250.6L374.0 257.5L362.9 257.7ZM373.8 250.6L384.9 250.4L385.1 257.4L374.0 257.5ZM384.9 250.4L396.0 250.3L396.3 257.2L385.1 257.4ZM429.3 249.8L440.4 249.6L440.7 256.5L429.6 256.7ZM262.9 259.2L274.0 259.1L274.3 266.0L263.2 266.2ZM274.0 259.1L285.2 258.9L285.4 265.8L274.3 266.0ZM296.3 258.7L307.4 258.6L307.6 265.5L296.5 265.7ZM396.3 257.2L407.4 257.0L407.6 264.0L396.5 264.1ZM407.4 257.0L418.5 256.9L418.7 263.8L407.6 264.0ZM429.6 256.7L440.7 256.5L441.0 263.5L429.9 263.6ZM440.7 256.5L451.8 256.4L452.1 263.3L441.0 263.5ZM474.0 256.0L485.1 255.8L485.4 262.8L474.3 262.9ZM329.9 265.1L341.0 265.0L341.2 271.9L330.1 272.1ZM385.4 264.3L396.5 264.1L396.8 271.1L385.7 271.2ZM396.5 264.1L407.6 264.0L407.9 270.9L396.8 271.1ZM429.9 263.6L441.0 263.5L441.2 270.4L430.1 270.6ZM452.1 263.3L463.2 263.1L463.5 270.0L452.3 270.2ZM252.4 273.3L263.5 273.1L263.7 280.0L252.6 280.2ZM285.7 272.8L296.8 272.6L297.1 279.5L286.0 279.7ZM296.8 272.6L307.9 272.4L308.2 279.4L297.1 279.5ZM374.6 271.4L385.7 271.2L386.0 278.2L374.8 278.3ZM385.7 271.2L396.8 271.1L397.1 278.0L386.0 278.2ZM407.9 270.9L419.0 270.7L419.3 277.7L408.2 277.8ZM419.0 270.7L430.1 270.6L430.4 277.5L419.3 277.7ZM430.1 270.6L441.2 270.4L441.5 277.3L430.4 277.5ZM452.3 270.2L463.5 270.0L463.7 277.0L452.6 277.2ZM286.0 279.7L297.1 279.5L297.3 286.5L286.2 286.6ZM319.3 279.2L330.4 279.0L330.7 285.9L319.6 286.1ZM330.4 279.0L341.5 278.8L341.8 285.8L330.7 285.9ZM341.5 278.8L352.6 278.7L352.9 285.6L341.8 285.8ZM397.1 278.0L408.2 277.8L408.4 284.8L397.3 284.9ZM419.3 277.7L430.4 277.5L430.7 284.4L419.6 284.6ZM441.5 277.3L452.6 277.2L452.9 284.1L441.8 284.3ZM286.2 286.6L297.3 286.5L297.6 293.4L286.5 293.6ZM319.6 286.1L330.7 285.9L330.9 292.9L319.8 293.1ZM330.7 285.9L341.8 285.8L342.1 292.7L330.9 292.9ZM364.0 285.4L375.1 285.3L375.4 292.2L364.3 292.4ZM375.1 285.3L386.2 285.1L386.5 292.0L375.4 292.2ZM386.2 285.1L397.3 284.9L397.6 291.9L386.5 292.0ZM397.3 284.9L408.4 284.8L408.7 291.7L397.6 291.9ZM419.6 284.6L430.7 284.4L430.9 291.4L419.8 291.5ZM430.7 284.4L441.8 284.3L442.0 291.2L430.9 291.4ZM441.8 284.3L452.9 284.1L453.2 291.0L442.0 291.2ZM242.1 294.2L253.2 294.1L253.4 301.0L242.3 301.2ZM319.8 293.1L330.9 292.9L331.2 299.8L320.1 300.0ZM342.1 292.7L353.2 292.5L353.4 299.5L342.3 299.6ZM331.2 299.8L342.3 299.6L342.6 306.6L331.5 306.7ZM420.1 298.5L431.2 298.3L431.5 305.2L420.4 305.4ZM264.8 307.8L275.9 307.6L276.2 314.5L265.1 314.7ZM287.0 307.4L298.2 307.3L298.4 314.2L287.3 314.4ZM298.2 307.3L309.3 307.1L309.5 314.0L298.4 314.2ZM364.8 306.2L375.9 306.1L376.2 313.0L365.1 313.2ZM409.3 305.6L420.4 305.4L420.6 312.3L409.5 312.5ZM298.4 314.2L309.5 314.0L309.8 321.0L298.7 321.1ZM331.8 313.7L342.9 313.5L343.1 320.4L332.0 320.6ZM376.2 313.0L387.3 312.8L387.6 319.8L376.5 319.9ZM409.5 312.5L420.6 312.3L420.9 319.3L409.8 319.4ZM298.7 321.1L309.8 321.0L310.1 327.9L299.0 328.1ZM310.1 327.9L321.2 327.7L321.5 334.6L310.4 334.8ZM332.6 334.5L343.7 334.3L344.0 341.2L332.8 341.4ZM343.7 334.3L354.8 334.1L355.1 341.1L344.0 341.2ZM377.0 333.8L388.1 333.6L388.4 340.6L377.3 340.7ZM310.6 341.8L321.7 341.6L322.0 348.5L310.9 348.7ZM332.8 341.4L344.0 341.2L344.2 348.2L333.1 348.3ZM355.1 341.1L366.2 340.9L366.4 347.8L355.3 348.0ZM366.2 340.9L377.3 340.7L377.6 347.7L366.4 347.8ZM399.5 340.4L410.6 340.2L410.9 347.2L399.8 347.3ZM366.4 347.8L377.6 347.7L377.8 354.6L366.7 354.8ZM377.6 347.7L388.7 347.5L388.9 354.4L377.8 354.6ZM311.2 355.6L322.3 355.4L322.5 362.4L311.4 362.6ZM355.6 354.9L366.7 354.8L367.0 361.7L355.9 361.9ZM366.7 354.8L377.8 354.6L378.1 361.5L367.0 361.7ZM388.9 354.4L400.0 354.3L400.3 361.2L389.2 361.4ZM400.0 354.3L411.2 354.1L411.4 361.0L400.3 361.2ZM289.2 362.9L300.3 362.7L300.6 369.7L289.5 369.8ZM322.5 362.4L333.7 362.2L333.9 369.1L322.8 369.3ZM333.7 362.2L344.8 362.0L345.0 369.0L333.9 369.1ZM344.8 362.0L355.9 361.9L356.1 368.8L345.0 369.0ZM355.9 361.9L367.0 361.7L367.3 368.6L356.1 368.8ZM389.2 361.4L400.3 361.2L400.6 368.1L389.5 368.3ZM400.3 361.2L411.4 361.0L411.7 368.0L400.6 368.1ZM333.9 369.1L345.0 369.0L345.3 375.9L334.2 376.1ZM400.6 368.1L411.7 368.0L412.0 374.9L400.9 375.1ZM312.0 376.4L323.1 376.2L323.4 383.2L312.2 383.3ZM345.3 375.9L356.4 375.7L356.7 382.7L345.6 382.8ZM400.9 375.1L412.0 374.9L412.2 381.8L401.1 382.0ZM290.0 383.7L301.1 383.5L301.4 390.5L290.3 390.6ZM301.1 383.5L312.2 383.3L312.5 390.3L301.4 390.5ZM345.6 382.8L356.7 382.7L357.0 389.6L345.8 389.8ZM356.7 382.7L367.8 382.5L368.1 389.4L357.0 389.6ZM378.9 382.3L390.0 382.2L390.3 389.1L379.2 389.3ZM401.1 382.0L412.2 381.8L412.5 388.8L401.4 388.9ZM301.4 390.5L312.5 390.3L312.8 397.2L301.7 397.4ZM323.6 390.1L334.7 389.9L335.0 396.9L323.9 397.0ZM345.8 389.8L357.0 389.6L357.2 396.5L346.1 396.7ZM390.3 389.1L401.4 388.9L401.7 395.9L390.6 396.0ZM357.2 396.5L368.3 396.4L368.6 403.3L357.5 403.5ZM401.7 395.9L412.8 395.7L413.0 402.6L401.9 402.8ZM357.5 403.5L368.6 403.3L368.9 410.2L357.8 410.4ZM368.6 403.3L379.7 403.1L380.0 410.1L368.9 410.2ZM390.8 403.0L401.9 402.8L402.2 409.7L391.1 409.9ZM413.0 402.6L424.2 402.5L424.4 409.4L413.3 409.6ZM380.0 410.1L391.1 409.9L391.4 416.8L380.3 417.0ZM347.5 431.4L358.6 431.2L358.9 438.1L347.7 438.3ZM414.1 430.4L425.2 430.2L425.5 437.1L414.4 437.3ZM370.0 438.0L381.1 437.8L381.3 444.7L370.2 444.9ZM381.1 437.8L392.2 437.6L392.5 444.6L381.3 444.7ZM381.6 451.7L392.7 451.5L393.0 458.4L381.9 458.6ZM392.7 451.5L403.8 451.3L404.1 458.3L393.0 458.4ZM348.6 459.1L359.7 458.9L359.9 465.9L348.8 466.0ZM370.8 458.8L381.9 458.6L382.2 465.5L371.0 465.7ZM404.6 472.1L415.8 472.0L416.0 478.9L404.9 479.1Z"/>
<path fill="#e5858b" d="M133.1 67.0L144.2 66.8L144.5 73.7L133.4 73.9ZM122.3 74.1L133.4 73.9L133.7 80.8L122.6 81.0ZM144.5 73.7L155.6 73.6L155.9 80.5L144.8 80.7ZM344.5 70.7L355.6 70.5L355.9 77.5L344.8 77.6ZM122.6 81.0L133.7 80.8L134.0 87.8L122.8 87.9ZM133.7 80.8L144.8 80.7L145.1 87.6L134.0 87.8ZM144.8 80.7L155.9 80.5L156.2 87.4L145.1 87.6ZM155.9 80.5L167.0 80.3L167.3 87.3L156.2 87.4ZM322.6 78.0L333.7 77.8L333.9 84.7L322.8 84.9ZM344.8 77.6L355.9 77.5L356.2 84.4L345.0 84.6ZM355.9 77.5L367.0 77.3L367.3 84.2L356.2 84.4ZM122.8 87.9L134.0 87.8L134.2 94.7L123.1 94.9ZM145.1 87.6L156.2 87.4L156.4 94.4L145.3 94.5ZM300.6 85.2L311.7 85.1L312.0 92.0L300.9 92.2ZM112.0 95.0L123.1 94.9L123.4 101.8L112.3 102.0ZM256.4 92.8L267.5 92.7L267.8 99.6L256.7 99.8ZM278.7 92.5L289.8 92.3L290.0 99.3L278.9 99.4ZM167.8 101.1L178.9 101.0L179.2 107.9L168.1 108.1ZM212.3 100.5L223.4 100.3L223.6 107.2L212.5 107.4ZM234.5 100.1L245.6 99.9L245.9 106.9L234.8 107.0ZM290.0 99.3L301.1 99.1L301.4 106.0L290.3 106.2ZM301.1 99.1L312.3 98.9L312.5 105.9L301.4 106.0ZM356.7 98.2L367.8 98.1L368.1 105.0L357.0 105.2ZM134.8 108.6L145.9 108.4L146.1 115.3L135.0 115.5ZM157.0 108.2L168.1 108.1L168.4 115.0L157.3 115.2ZM223.6 107.2L234.8 107.0L235.0 114.0L223.9 114.1ZM268.1 106.5L279.2 106.4L279.5 113.3L268.4 113.5ZM290.3 106.2L301.4 106.0L301.7 113.0L290.6 113.1ZM112.8 115.8L123.9 115.7L124.2 122.6L113.1 122.8ZM179.5 114.8L190.6 114.7L190.9 121.6L179.7 121.8ZM201.7 114.5L212.8 114.3L213.1 121.3L202.0 121.4ZM235.0 114.0L246.1 113.8L246.4 120.7L235.3 120.9ZM257.2 113.6L268.4 113.5L268.6 120.4L257.5 120.6ZM268.4 113.5L279.5 113.3L279.7 120.2L268.6 120.4ZM301.7 113.0L312.8 112.8L313.1 119.7L302.0 119.9ZM379.7 118.7L390.8 118.5L391.1 125.5L380.0 125.6ZM113.4 129.7L124.5 129.5L124.7 136.5L113.6 136.6ZM135.6 129.4L146.7 129.2L147.0 136.1L135.8 136.3ZM402.2 125.3L413.3 125.1L413.6 132.1L402.5 132.2ZM258.1 134.4L269.2 134.3L269.4 141.2L258.3 141.4ZM313.6 133.6L324.7 133.4L325.0 140.4L313.9 140.5ZM380.3 132.6L391.4 132.4L391.6 139.3L380.5 139.5ZM435.8 131.7L446.9 131.6L447.2 138.5L436.1 138.7ZM380.5 139.5L391.6 139.3L391.9 146.3L380.8 146.4ZM236.7 155.6L247.8 155.4L248.0 162.3L236.9 162.5ZM247.8 155.4L258.9 155.2L259.1 162.2L248.0 162.3ZM258.9 155.2L270.0 155.1L270.3 162.0L259.1 162.2ZM281.1 154.9L292.2 154.7L292.5 161.7L281.4 161.8ZM292.2 154.7L303.3 154.6L303.6 161.5L292.5 161.7ZM303.3 154.6L314.4 154.4L314.7 161.3L303.6 161.5ZM314.4 154.4L325.5 154.2L325.8 161.2L314.7 161.3ZM325.5 154.2L336.6 154.1L336.9 161.0L325.8 161.2ZM336.6 154.1L347.8 153.9L348.0 160.8L336.9 161.0ZM347.8 153.9L358.9 153.7L359.1 160.6L348.0 160.8ZM358.9 153.7L370.0 153.5L370.2 160.5L359.1 160.6ZM381.1 153.4L392.2 153.2L392.5 160.1L381.4 160.3ZM392.2 153.2L403.3 153.0L403.6 160.0L392.5 160.1ZM403.3 153.0L414.4 152.9L414.7 159.8L403.6 160.0ZM414.4 152.9L425.5 152.7L425.8 159.6L414.7 159.8ZM447.7 152.4L458.9 152.2L459.1 159.1L448.0 159.3ZM148.0 163.9L159.2 163.7L159.4 170.6L148.3 170.8ZM170.3 163.5L181.4 163.4L181.6 170.3L170.5 170.5ZM259.1 162.2L270.3 162.0L270.5 168.9L259.4 169.1ZM292.5 161.7L303.6 161.5L303.9 168.4L292.7 168.6ZM314.7 161.3L325.8 161.2L326.1 168.1L315.0 168.3ZM325.8 161.2L336.9 161.0L337.2 167.9L326.1 168.1ZM348.0 160.8L359.1 160.6L359.4 167.6L348.3 167.7ZM359.1 160.6L370.2 160.5L370.5 167.4L359.4 167.6ZM436.9 159.5L448.0 159.3L448.3 166.2L437.2 166.4ZM448.0 159.3L459.1 159.1L459.4 166.1L448.3 166.2ZM470.2 159.0L481.3 158.8L481.6 165.7L470.5 165.9ZM492.5 158.6L503.6 158.4L503.8 165.4L492.7 165.5ZM170.5 170.5L181.6 170.3L181.9 177.2L170.8 177.4ZM181.6 170.3L192.8 170.1L193.0 177.1L181.9 177.2ZM192.8 170.1L203.9 170.0L204.1 176.9L193.0 177.1ZM203.9 170.0L215.0 169.8L215.2 176.7L204.1 176.9ZM215.0 169.8L226.1 169.6L226.4 176.5L215.2 176.7ZM226.1 169.6L237.2 169.4L237.5 176.4L226.4 176.5ZM237.2 169.4L248.3 169.3L248.6 176.2L237.5 176.4ZM281.6 168.8L292.7 168.6L293.0 175.5L281.9 175.7ZM359.4 167.6L370.5 167.4L370.8 174.3L359.7 174.5ZM403.8 166.9L415.0 166.7L415.2 173.7L404.1 173.8ZM426.1 166.6L437.2 166.4L437.4 173.3L426.3 173.5ZM459.4 166.1L470.5 165.9L470.8 172.8L459.7 173.0ZM470.5 165.9L481.6 165.7L481.9 172.6L470.8 172.8ZM492.7 165.5L503.8 165.4L504.1 172.3L493.0 172.5ZM503.8 165.4L514.9 165.2L515.2 172.1L504.1 172.3ZM159.7 177.6L170.8 177.4L171.1 184.3L160.0 184.5ZM181.9 177.2L193.0 177.1L193.3 184.0L182.2 184.2ZM193.0 177.1L204.1 176.9L204.4 183.8L193.3 184.0ZM204.1 176.9L215.2 176.7L215.5 183.6L204.4 183.8ZM226.4 176.5L237.5 176.4L237.7 183.3L226.6 183.5ZM248.6 176.2L259.7 176.0L260.0 183.0L248.8 183.1ZM259.7 176.0L270.8 175.9L271.1 182.8L260.0 183.0ZM270.8 175.9L281.9 175.7L282.2 182.6L271.1 182.8ZM281.9 175.7L293.0 175.5L293.3 182.5L282.2 182.6ZM315.2 175.2L326.3 175.0L326.6 182.0L315.5 182.1ZM359.7 174.5L370.8 174.3L371.1 181.3L359.9 181.4ZM393.0 174.0L404.1 173.8L404.4 180.8L393.3 180.9ZM437.4 173.3L448.6 173.2L448.8 180.1L437.7 180.3ZM459.7 173.0L470.8 172.8L471.0 179.8L459.9 179.9ZM493.0 172.5L504.1 172.3L504.4 179.2L493.3 179.4ZM515.2 172.1L526.3 172.0L526.6 178.9L515.5 179.1ZM160.0 184.5L171.1 184.3L171.3 191.3L160.2 191.4ZM171.1 184.3L182.2 184.2L182.5 191.1L171.3 191.3ZM226.6 183.5L237.7 183.3L238.0 190.2L226.9 190.4ZM248.8 183.1L260.0 183.0L260.2 189.9L249.1 190.1ZM260.0 183.0L271.1 182.8L271.3 189.7L260.2 189.9ZM282.2 182.6L293.3 182.5L293.6 189.4L282.4 189.6ZM293.3 182.5L304.4 182.3L304.7 189.2L293.6 189.4ZM382.2 181.1L393.3 180.9L393.5 187.9L382.4 188.0ZM393.3 180.9L404.4 180.8L404.7 187.7L393.5 187.9ZM426.6 180.4L437.7 180.3L438.0 187.2L426.9 187.4ZM437.7 180.3L448.8 180.1L449.1 187.0L438.0 187.2ZM448.8 180.1L459.9 179.9L460.2 186.9L449.1 187.0ZM459.9 179.9L471.0 179.8L471.3 186.7L460.2 186.9ZM471.0 179.8L482.2 179.6L482.4 186.5L471.3 186.7ZM515.5 179.1L526.6 178.9L526.9 185.8L515.8 186.0ZM182.5 191.1L193.6 190.9L193.8 197.9L182.7 198.0ZM215.8 190.6L226.9 190.4L227.2 197.3L216.1 197.5ZM238.0 190.2L249.1 190.1L249.4 197.0L238.3 197.2ZM260.2 189.9L271.3 189.7L271.6 196.7L260.5 196.8ZM271.3 189.7L282.4 189.6L282.7 196.5L271.6 196.7ZM293.6 189.4L304.7 189.2L304.9 196.2L293.8 196.3ZM304.7 189.2L315.8 189.1L316.0 196.0L304.9 196.2ZM393.5 187.9L404.7 187.7L404.9 194.6L393.8 194.8ZM404.7 187.7L415.8 187.5L416.0 194.5L404.9 194.6ZM438.0 187.2L449.1 187.0L449.4 194.0L438.3 194.1ZM449.1 187.0L460.2 186.9L460.5 193.8L449.4 194.0ZM493.5 186.3L504.6 186.2L504.9 193.1L493.8 193.3ZM216.1 197.5L227.2 197.3L227.4 204.3L216.3 204.4ZM227.2 197.3L238.3 197.2L238.5 204.1L227.4 204.3ZM260.5 196.8L271.6 196.7L271.9 203.6L260.8 203.8ZM304.9 196.2L316.0 196.0L316.3 202.9L305.2 203.1ZM327.2 195.8L338.3 195.7L338.5 202.6L327.4 202.8ZM371.6 195.1L382.7 195.0L383.0 201.9L371.9 202.1ZM416.0 194.5L427.1 194.3L427.4 201.2L416.3 201.4ZM516.0 192.9L527.1 192.8L527.4 199.7L516.3 199.9ZM205.2 204.6L216.3 204.4L216.6 211.4L205.5 211.5ZM238.5 204.1L249.7 203.9L249.9 210.9L238.8 211.0ZM249.7 203.9L260.8 203.8L261.0 210.7L249.9 210.9ZM316.3 202.9L327.4 202.8L327.7 209.7L316.6 209.9ZM338.5 202.6L349.6 202.4L349.9 209.3L338.8 209.5ZM449.6 200.9L460.7 200.7L461.0 207.7L449.9 207.8ZM338.8 209.5L349.9 209.3L350.2 216.3L339.1 216.4ZM394.4 208.7L405.5 208.5L405.7 215.4L394.6 215.6ZM483.2 207.3L494.3 207.1L494.6 214.1L483.5 214.2ZM516.6 206.8L527.7 206.6L527.9 213.6L516.8 213.7ZM328.0 216.6L339.1 216.4L339.3 223.4L328.2 223.6ZM505.7 213.9L516.8 213.7L517.1 220.7L506.0 220.8ZM228.2 225.1L239.4 224.9L239.6 231.8L228.5 232.0ZM272.7 224.4L283.8 224.2L284.1 231.2L273.0 231.3ZM283.8 224.2L294.9 224.1L295.2 231.0L284.1 231.2ZM306.0 223.9L317.1 223.7L317.4 230.7L306.3 230.8ZM383.8 222.7L394.9 222.5L395.2 229.5L384.1 229.6ZM273.0 231.3L284.1 231.2L284.3 238.1L273.2 238.3ZM361.8 230.0L372.9 229.8L373.2 236.7L362.1 236.9ZM251.0 238.6L262.1 238.4L262.4 245.4L251.3 245.5ZM373.2 236.7L384.3 236.6L384.6 243.5L373.5 243.7ZM417.7 236.1L428.8 235.9L429.0 242.8L417.9 243.0ZM428.8 235.9L439.9 235.7L440.2 242.7L429.0 242.8ZM439.9 235.7L451.0 235.6L451.3 242.5L440.2 242.7ZM262.4 245.4L273.5 245.2L273.8 252.1L262.7 252.3ZM273.5 245.2L284.6 245.0L284.9 252.0L273.8 252.1ZM284.6 245.0L295.7 244.9L296.0 251.8L284.9 252.0ZM306.8 244.7L317.9 244.5L318.2 251.5L307.1 251.6ZM362.4 243.8L373.5 243.7L373.8 250.6L362.7 250.8ZM384.6 243.5L395.7 243.3L396.0 250.3L384.9 250.4ZM418.5 256.9L429.6 256.7L429.9 263.6L418.7 263.8ZM307.6 265.5L318.8 265.3L319.0 272.3L307.9 272.4ZM341.0 265.0L352.1 264.8L352.4 271.7L341.2 271.9ZM407.6 264.0L418.7 263.8L419.0 270.7L407.9 270.9ZM363.5 271.6L374.6 271.4L374.8 278.3L363.7 278.5ZM274.9 279.9L286.0 279.7L286.2 286.6L275.1 286.8ZM452.9 284.1L464.0 283.9L464.3 290.8L453.2 291.0ZM253.2 294.1L264.3 293.9L264.6 300.8L253.4 301.0ZM297.6 293.4L308.7 293.2L309.0 300.2L297.9 300.3ZM330.9 292.9L342.1 292.7L342.3 299.6L331.2 299.8ZM364.3 292.4L375.4 292.2L375.7 299.1L364.5 299.3ZM375.4 292.2L386.5 292.0L386.8 299.0L375.7 299.1ZM353.4 299.5L364.5 299.3L364.8 306.2L353.7 306.4ZM364.5 299.3L375.7 299.1L375.9 306.1L364.8 306.2ZM375.7 299.1L386.8 299.0L387.0 305.9L375.9 306.1ZM442.3 298.1L453.4 298.0L453.7 304.9L442.6 305.1ZM453.4 298.0L464.5 297.8L464.8 304.7L453.7 304.9ZM253.7 307.9L264.8 307.8L265.1 314.7L254.0 314.9ZM309.3 307.1L320.4 306.9L320.6 313.9L309.5 314.0ZM375.9 306.1L387.0 305.9L387.3 312.8L376.2 313.0ZM431.5 305.2L442.6 305.1L442.9 312.0L431.7 312.2ZM309.5 314.0L320.6 313.9L320.9 320.8L309.8 321.0ZM320.6 313.9L331.8 313.7L332.0 320.6L320.9 320.8ZM398.4 312.7L409.5 312.5L409.8 319.4L398.7 319.6ZM431.7 312.2L442.9 312.0L443.1 318.9L432.0 319.1ZM320.9 320.8L332.0 320.6L332.3 327.5L321.2 327.7ZM421.2 326.2L432.3 326.0L432.6 333.0L421.5 333.1ZM277.0 335.3L288.1 335.2L288.4 342.1L277.3 342.3ZM288.1 335.2L299.2 335.0L299.5 341.9L288.4 342.1ZM299.2 335.0L310.4 334.8L310.6 341.8L299.5 341.9ZM388.1 333.6L399.2 333.5L399.5 340.4L388.4 340.6ZM399.2 333.5L410.3 333.3L410.6 340.2L399.5 340.4ZM410.3 333.3L421.5 333.1L421.7 340.1L410.6 340.2ZM277.3 342.3L288.4 342.1L288.7 349.0L277.6 349.2ZM288.4 342.1L299.5 341.9L299.8 348.9L288.7 349.0ZM344.0 341.2L355.1 341.1L355.3 348.0L344.2 348.2ZM277.6 349.2L288.7 349.0L288.9 356.0L277.8 356.1ZM288.7 349.0L299.8 348.9L300.1 355.8L288.9 356.0ZM355.3 348.0L366.4 347.8L366.7 354.8L355.6 354.9ZM266.7 356.3L277.8 356.1L278.1 363.1L267.0 363.2ZM288.9 356.0L300.1 355.8L300.3 362.7L289.2 362.9ZM300.3 362.7L311.4 362.6L311.7 369.5L300.6 369.7ZM378.1 361.5L389.2 361.4L389.5 368.3L378.4 368.5ZM289.5 369.8L300.6 369.7L300.9 376.6L289.8 376.8ZM378.4 368.5L389.5 368.3L389.7 375.2L378.6 375.4ZM289.8 376.8L300.9 376.6L301.1 383.5L290.0 383.7ZM389.7 375.2L400.9 375.1L401.1 382.0L390.0 382.2ZM334.5 383.0L345.6 382.8L345.8 389.8L334.7 389.9ZM368.1 389.4L379.2 389.3L379.4 396.2L368.3 396.4ZM369.2 417.2L380.3 417.0L380.5 423.9L369.4 424.1ZM402.8 423.6L413.9 423.4L414.1 430.4L403.0 430.5ZM369.7 431.0L380.8 430.9L381.1 437.8L370.0 438.0ZM337.7 466.2L348.8 466.0L349.1 473.0L338.0 473.1Z"/>
<path fill="#f0987d" d="M122.0 67.1L133.1 67.0L133.4 73.9L122.3 74.1ZM133.4 73.9L144.5 73.7L144.8 80.7L133.7 80.8ZM333.4 70.9L344.5 70.7L344.8 77.6L333.7 77.8ZM100.4 81.3L111.5 81.2L111.7 88.1L100.6 88.3ZM111.5 81.2L122.6 81.0L122.8 87.9L111.7 88.1ZM134.0 87.8L145.1 87.6L145.3 94.5L134.2 94.7ZM267.8 99.6L278.9 99.4L279.2 106.4L268.1 106.5ZM345.6 98.4L356.7 98.2L357.0 105.2L345.9 105.4ZM112.5 108.9L123.7 108.7L123.9 115.7L112.8 115.8ZM234.8 107.0L245.9 106.9L246.1 113.8L235.0 114.0ZM301.4 106.0L312.5 105.9L312.8 112.8L301.7 113.0ZM346.1 112.3L357.2 112.1L357.5 119.0L346.4 119.2ZM180.0 128.7L191.1 128.5L191.4 135.5L180.3 135.6ZM202.2 128.4L213.3 128.2L213.6 135.1L202.5 135.3ZM224.5 128.0L235.6 127.8L235.8 134.8L224.7 134.9ZM268.9 127.3L280.0 127.2L280.3 134.1L269.2 134.3ZM280.0 127.2L291.1 127.0L291.4 133.9L280.3 134.1ZM291.1 127.0L302.2 126.8L302.5 133.8L291.4 133.9ZM413.3 125.1L424.4 125.0L424.7 131.9L413.6 132.1ZM124.7 136.5L135.8 136.3L136.1 143.2L125.0 143.4ZM135.8 136.3L147.0 136.1L147.2 143.1L136.1 143.2ZM147.0 136.1L158.1 136.0L158.3 142.9L147.2 143.1ZM191.4 135.5L202.5 135.3L202.8 142.2L191.7 142.4ZM413.6 132.1L424.7 131.9L425.0 138.8L413.9 139.0ZM270.0 155.1L281.1 154.9L281.4 161.8L270.3 162.0ZM370.0 153.5L381.1 153.4L381.4 160.3L370.2 160.5ZM425.5 152.7L436.6 152.5L436.9 159.5L425.8 159.6ZM436.6 152.5L447.7 152.4L448.0 159.3L436.9 159.5ZM458.9 152.2L470.0 152.0L470.2 159.0L459.1 159.1ZM470.0 152.0L481.1 151.8L481.3 158.8L470.2 159.0ZM481.1 151.8L492.2 151.7L492.5 158.6L481.3 158.8ZM492.2 151.7L503.3 151.5L503.6 158.4L492.5 158.6ZM214.7 162.8L225.8 162.7L226.1 169.6L215.0 169.8ZM481.3 158.8L492.5 158.6L492.7 165.5L481.6 165.7ZM259.4 169.1L270.5 168.9L270.8 175.9L259.7 176.0ZM292.7 168.6L303.9 168.4L304.1 175.4L293.0 175.5ZM303.9 168.4L315.0 168.3L315.2 175.2L304.1 175.4ZM370.5 167.4L381.6 167.2L381.9 174.2L370.8 174.3ZM437.2 166.4L448.3 166.2L448.6 173.2L437.4 173.3ZM237.5 176.4L248.6 176.2L248.8 183.1L237.7 183.3ZM293.0 175.5L304.1 175.4L304.4 182.3L293.3 182.5ZM415.2 173.7L426.3 173.5L426.6 180.4L415.5 180.6ZM304.4 182.3L315.5 182.1L315.8 189.1L304.7 189.2ZM315.5 182.1L326.6 182.0L326.9 188.9L315.8 189.1ZM348.8 181.6L359.9 181.4L360.2 188.4L349.1 188.5ZM371.1 181.3L382.2 181.1L382.4 188.0L371.3 188.2ZM482.2 179.6L493.3 179.4L493.5 186.3L482.4 186.5ZM526.6 178.9L537.7 178.7L538.0 185.7L526.9 185.8ZM171.3 191.3L182.5 191.1L182.7 198.0L171.6 198.2ZM249.1 190.1L260.2 189.9L260.5 196.8L249.4 197.0ZM371.3 188.2L382.4 188.0L382.7 195.0L371.6 195.1ZM415.8 187.5L426.9 187.4L427.1 194.3L416.0 194.5ZM515.8 186.0L526.9 185.8L527.1 192.8L516.0 192.9ZM526.9 185.8L538.0 185.7L538.2 192.6L527.1 192.8ZM182.7 198.0L193.8 197.9L194.1 204.8L183.0 205.0ZM238.3 197.2L249.4 197.0L249.7 203.9L238.5 204.1ZM249.4 197.0L260.5 196.8L260.8 203.8L249.7 203.9ZM271.6 196.7L282.7 196.5L283.0 203.4L271.9 203.6ZM293.8 196.3L304.9 196.2L305.2 203.1L294.1 203.3ZM361.0 209.2L372.1 209.0L372.4 215.9L361.3 216.1ZM494.3 207.1L505.5 207.0L505.7 213.9L494.6 214.1ZM394.6 215.6L405.7 215.4L406.0 222.4L394.9 222.5ZM217.1 225.2L228.2 225.1L228.5 232.0L217.4 232.2ZM494.9 221.0L506.0 220.8L506.3 227.8L495.2 227.9ZM506.0 220.8L517.1 220.7L517.4 227.6L506.3 227.8ZM306.6 237.8L317.7 237.6L317.9 244.5L306.8 244.7ZM384.3 236.6L395.4 236.4L395.7 243.3L384.6 243.5ZM395.4 236.4L406.5 236.2L406.8 243.2L395.7 243.3ZM373.5 243.7L384.6 243.5L384.9 250.4L373.8 250.6ZM473.5 242.1L484.6 242.0L484.9 248.9L473.8 249.1ZM407.1 250.1L418.2 249.9L418.5 256.9L407.4 257.0ZM440.4 249.6L451.5 249.4L451.8 256.4L440.7 256.5ZM340.7 258.0L351.8 257.9L352.1 264.8L341.0 265.0ZM385.1 257.4L396.3 257.2L396.5 264.1L385.4 264.3ZM441.2 270.4L452.3 270.2L452.6 277.2L441.5 277.3ZM430.4 277.5L441.5 277.3L441.8 284.3L430.7 284.4ZM397.6 291.9L408.7 291.7L409.0 298.6L397.9 298.8ZM408.7 291.7L419.8 291.5L420.1 298.5L409.0 298.6ZM442.0 291.2L453.2 291.0L453.4 298.0L442.3 298.1ZM253.4 301.0L264.6 300.8L264.8 307.8L253.7 307.9ZM320.1 300.0L331.2 299.8L331.5 306.7L320.4 306.9ZM342.3 299.6L353.4 299.5L353.7 306.4L342.6 306.6ZM397.9 298.8L409.0 298.6L409.3 305.6L398.1 305.7ZM431.2 298.3L442.3 298.1L442.6 305.1L431.5 305.2ZM331.5 306.7L342.6 306.6L342.9 313.5L331.8 313.7ZM398.1 305.7L409.3 305.6L409.5 312.5L398.4 312.7ZM276.5 321.5L287.6 321.3L287.9 328.2L276.8 328.4ZM332.0 320.6L343.1 320.4L343.4 327.4L332.3 327.5ZM354.2 320.3L365.4 320.1L365.6 327.0L354.5 327.2ZM376.5 319.9L387.6 319.8L387.9 326.7L376.7 326.9ZM399.0 326.5L410.1 326.4L410.3 333.3L399.2 333.5ZM321.5 334.6L332.6 334.5L332.8 341.4L321.7 341.6ZM300.6 369.7L311.7 369.5L312.0 376.4L300.9 376.6ZM367.3 368.6L378.4 368.5L378.6 375.4L367.5 375.6ZM334.2 376.1L345.3 375.9L345.6 382.8L334.5 383.0ZM358.0 417.3L369.2 417.2L369.4 424.1L358.3 424.3ZM391.4 416.8L402.5 416.7L402.8 423.6L391.6 423.8ZM380.8 430.9L391.9 430.7L392.2 437.6L381.1 437.8ZM403.0 430.5L414.1 430.4L414.4 437.3L403.3 437.5Z"/>
<path fill="#fab16d" d="M111.2 74.2L122.3 74.1L122.6 81.0L111.5 81.2ZM223.4 100.3L234.5 100.1L234.8 107.0L223.6 107.2ZM278.9 99.4L290.0 99.3L290.3 106.2L279.2 106.4ZM123.7 108.7L134.8 108.6L135.0 115.5L123.9 115.7ZM324.2 119.6L335.3 119.4L335.6 126.3L324.4 126.5ZM346.4 119.2L357.5 119.0L357.8 126.0L346.7 126.2ZM357.5 119.0L368.6 118.9L368.9 125.8L357.8 126.0ZM368.6 118.9L379.7 118.7L380.0 125.6L368.9 125.8ZM146.7 129.2L157.8 129.0L158.1 136.0L147.0 136.1ZM246.7 127.7L257.8 127.5L258.1 134.4L246.9 134.6ZM302.2 126.8L313.3 126.7L313.6 133.6L302.5 133.8ZM335.6 126.3L346.7 126.2L346.9 133.1L335.8 133.3ZM368.9 125.8L380.0 125.6L380.3 132.6L369.2 132.7ZM158.1 136.0L169.2 135.8L169.4 142.7L158.3 142.9ZM202.5 135.3L213.6 135.1L213.9 142.0L202.8 142.2ZM280.3 134.1L291.4 133.9L291.7 140.9L280.5 141.0ZM302.5 133.8L313.6 133.6L313.9 140.5L302.8 140.7ZM446.9 131.6L458.0 131.4L458.3 138.3L447.2 138.5ZM369.4 139.7L380.5 139.5L380.8 146.4L369.7 146.6ZM159.2 163.7L170.3 163.5L170.5 170.5L159.4 170.6ZM181.4 163.4L192.5 163.2L192.8 170.1L181.6 170.3ZM236.9 162.5L248.0 162.3L248.3 169.3L237.2 169.4ZM338.3 195.7L349.4 195.5L349.6 202.4L338.5 202.6ZM272.4 217.5L283.5 217.3L283.8 224.2L272.7 224.4ZM417.4 229.1L428.5 229.0L428.8 235.9L417.7 236.1ZM317.7 237.6L328.8 237.4L329.1 244.4L317.9 244.5ZM328.8 237.4L339.9 237.2L340.2 244.2L329.1 244.4ZM362.1 236.9L373.2 236.7L373.5 243.7L362.4 243.8ZM462.1 235.4L473.2 235.2L473.5 242.1L462.4 242.3ZM440.2 242.7L451.3 242.5L451.5 249.4L440.4 249.6ZM329.6 258.2L340.7 258.0L341.0 265.0L329.9 265.1ZM252.1 266.3L263.2 266.2L263.5 273.1L252.4 273.3ZM274.3 266.0L285.4 265.8L285.7 272.8L274.6 272.9ZM307.9 272.4L319.0 272.3L319.3 279.2L308.2 279.4ZM386.5 292.0L397.6 291.9L397.9 298.8L386.8 299.0ZM419.8 291.5L430.9 291.4L431.2 298.3L420.1 298.5ZM386.8 299.0L397.9 298.8L398.1 305.7L387.0 305.9ZM342.6 306.6L353.7 306.4L354.0 313.3L342.9 313.5ZM353.7 306.4L364.8 306.2L365.1 313.2L354.0 313.3ZM442.6 305.1L453.7 304.9L454.0 311.8L442.9 312.0ZM354.0 313.3L365.1 313.2L365.4 320.1L354.2 320.3ZM387.3 312.8L398.4 312.7L398.7 319.6L387.6 319.8ZM420.6 312.3L431.7 312.2L432.0 319.1L420.9 319.3ZM287.6 321.3L298.7 321.1L299.0 328.1L287.9 328.2ZM309.8 321.0L320.9 320.8L321.2 327.7L310.1 327.9ZM343.1 320.4L354.2 320.3L354.5 327.2L343.4 327.4ZM310.9 348.7L322.0 348.5L322.3 355.4L311.2 355.6ZM413.3 409.6L424.4 409.4L424.7 416.3L413.6 416.5Z"/>
<path fill="#fdd15d" d="M256.7 99.8L267.8 99.6L268.1 106.5L257.0 106.7ZM213.3 128.2L224.5 128.0L224.7 134.9L213.6 135.1ZM169.2 135.8L180.3 135.6L180.6 142.6L169.4 142.7ZM213.6 135.1L224.7 134.9L225.0 141.9L213.9 142.0ZM291.4 133.9L302.5 133.8L302.8 140.7L291.7 140.9ZM369.2 132.7L380.3 132.6L380.5 139.5L369.4 139.7ZM402.5 132.2L413.6 132.1L413.9 139.0L402.8 139.2ZM406.8 243.2L417.9 243.0L418.2 249.9L407.1 250.1ZM462.4 242.3L473.5 242.1L473.8 249.1L462.6 249.3ZM418.7 263.8L429.9 263.6L430.1 270.6L419.0 270.7ZM320.4 306.9L331.5 306.7L331.8 313.7L320.6 313.9Z"/>
<path fill="#f4fa56" d="M313.3 126.7L324.4 126.5L324.7 133.4L313.6 133.6ZM324.4 126.5L335.6 126.3L335.8 133.3L324.7 133.4ZM346.9 133.1L358.0 132.9L358.3 139.8L347.2 140.0ZM358.0 132.9L369.2 132.7L369.4 139.7L358.3 139.8Z"/>
</g>
<path d="M52.5 21.4V566.5H576.6" fill="none" stroke="#000" stroke-width="1"/>
<path d="M48.5 31.5H52.5M48.5 47.5H52.5M48.5 62.5H52.5M48.5 78.5H52.5M46.2 93.5H54.8M48.5 108.5H52.5M48.5 124.5H52.5M48.5 139.5H52.5M48.5 154.5H52.5M46.2 170.5H54.8M48.5 185.5H52.5M48.5 201.5H52.5M48.5 216.5H52.5M48.5 232.5H52.5M46.2 247.5H54.8M48.5 262.5H52.5M48.5 278.5H52.5M48.5 293.5H52.5M48.5 308.5H52.5M46.2 324.5H54.8M48.5 339.5H52.5M48.5 355.5H52.5M48.5 370.5H52.5M48.5 386.5H52.5M46.2 401.5H54.8M48.5 416.5H52.5M48.5 432.5H52.5M48.5 447.5H52.5M48.5 462.5H52.5M46.2 478.5H54.8M48.5 493.5H52.5M48.5 509.5H52.5M48.5 524.5H52.5M48.5 540.5H52.5M46.2 555.5H54.8M57.5 566.5V570.8M77.5 566.5V570.8M98.5 566.5V570.8M118.5 564.2V572.8M138.5 566.5V570.8M159.5 566.5V570.8M179.5 566.5V570.8M199.5 566.5V570.8M219.5 564.2V572.8M240.5 566.5V570.8M260.5 566.5V570.8M280.5 566.5V570.8M300.5 566.5V570.8M321.5 564.2V572.8M341.5 566.5V570.8M361.5 566.5V570.8M381.5 566.5V570.8M402.5 566.5V570.8M422.5 564.2V572.8M442.5 566.5V570.8M462.5 566.5V570.8M483.5 566.5V570.8M503.5 566.5V570.8M523.5 564.2V572.8M543.5 566.5V570.8M564.5 566.5V570.8" fill="none" stroke="#000" stroke-width="1"/>
<text class="tl" x="41.2" y="97.2" text-anchor="end">35.051</text>
<text class="tl" x="41.2" y="174.2" text-anchor="end">35.05</text>
<text class="tl" x="41.2" y="251.2" text-anchor="end">35.049</text>
<text class="tl" x="41.2" y="328.2" text-anchor="end">35.048</text>
<text class="tl" x="41.2" y="405.2" text-anchor="end">35.047</text>
<text class="tl" x="41.2" y="482.2" text-anchor="end">35.046</text>
<text class="tl" x="41.2" y="559.2" text-anchor="end">35.045</text>
<text class="tl" x="118.5" y="586" text-anchor="middle">-83.436</text>
<text class="tl" x="219.8" y="586" text-anchor="middle">-83.435</text>
<text class="tl" x="321.1" y="586" text-anchor="middle">-83.434</text>
<text class="tl" x="422.4" y="586" text-anchor="middle">-83.433</text>
<text class="tl" x="523.7" y="586" text-anchor="middle">-83.432</text>
<text class="al" x="315" y="604.8" text-anchor="middle">Longitude</text>
<text class="al" fill-opacity="0.3" transform="translate(0.6,294.6) rotate(-90)" text-anchor="middle">Latitude</text>
<rect x="586.3" y="31.4" width="25.3" height="525.2" fill="url(#pl)" stroke="#000" stroke-width="1"/>
<text class="tl" x="627.5" y="560.2" text-anchor="middle">0</text>
<text class="tl" x="627.5" y="479.3" text-anchor="middle">1000</text>
<text class="tl" x="627.5" y="397.6" text-anchor="middle">2000</text>
<text class="tl" x="627.5" y="315.9" text-anchor="middle">3000</text>
<text class="tl" x="627.5" y="234.2" text-anchor="middle">4000</text>
<text class="tl" x="627.5" y="152.6" text-anchor="middle">5000</text>
<text class="tl" x="627.5" y="70.9" text-anchor="middle">6000</text>
<path d="M606.6 475.5H611.6M606.6 393.5H611.6M606.6 312.5H611.6M606.6 230.5H611.6M606.6 148.5H611.6M606.6 66.5H611.6" fill="none" stroke="#000" stroke-width="1"/>
<g id="toolbar">
<!-- logo -->
<g transform="translate(668,30.85) scale(0.95)" stroke="none">
<polygon points="-3.3,-7.5 0.0,-10.6 3.8,-7.5 -1.0,-3.6" fill="#1f9d4d"/>
<polygon points="0.4,-4.5 4.3,-7.2 8.1,-5.6 7.0,-2.1" fill="#1fa59a"/>
<polygon points="2.8,-3.0 7.9,-3.3 10.6,0.0 7.9,3.8" fill="#2a9fd8"/>
<polygon points="4.2,0.5 7.9,3.6 6.8,7.1 3.2,7.7" fill="#6a2c91"/>
<polygon points="-3.8,7.6 2.6,2.5 4.0,7.6 -0.5,10.5" fill="#e5126b"/>
<polygon points="-8.2,2.9 -0.5,4.1 -2.8,7.4 -7.7,6.4" fill="#e8432a"/>
<polygon points="-10.5,-0.6 -7.7,-3.5 -2.7,2.7 -7.7,3.5" fill="#f7941d"/>
<polygon points="-7.8,-6.7 -2.9,-8.1 -2.6,-3.4 -5.3,-0.7" fill="#9ac31c"/>
</g>
<rect x="653" y="46" width="2" height="30" fill="#26aae1"/>
<rect x="653" y="199" width="2" height="30" fill="#26aae1"/>
<g stroke="#d9d9d9" stroke-width="1"><path d="M663.5 106.3H672.5M663.5 137.3H672.5M663.5 198.3H672.5"/></g>
<!-- pan -->
<g transform="translate(668,61)" fill="#a5abab" stroke="none">
<rect x="-6" y="-1" width="12" height="2"/><rect x="-1" y="-6" width="2" height="12"/>
<polygon points="0,-9 -3.2,-5 3.2,-5"/><polygon points="0,9 -3.2,5 3.2,5"/>
<polygon points="-9,0 -5,-3.2 -5,3.2"/><polygon points="9,0 5,-3.2 5,3.2"/>
</g>
<!-- box zoom -->
<g transform="translate(668,91)" fill="none" stroke="#a5abab">
<path d="M-1 -8.5H-8.5V8.5H8.5V3" stroke-width="1" stroke-dasharray="2 1.5" stroke="#8a8f8f"/>
<circle cx="3.8" cy="-3.8" r="4.2" stroke-width="1.8"/>
<path d="M0.8 -0.8L-5.5 5.5" stroke-width="2.2" stroke-linecap="round"/>
</g>
<!-- wheel zoom -->
<g transform="translate(668,121.7)" fill="none" stroke="#a5abab">
<rect x="-8.6" y="-5" width="6" height="11.5" rx="3" stroke-width="1.5"/>
<path d="M-5.6 -2.5V1.5" stroke-width="1.6"/>
<circle cx="4.6" cy="-2.2" r="3.8" stroke-width="1.6"/>
<path d="M2.4 1L-0.6 6" stroke-width="1.8" stroke-linecap="round"/>
</g>
<!-- save -->
<g transform="translate(668,152.8)" fill="none" stroke="#a5abab">
<rect x="-8.5" y="-8.5" width="17" height="17" stroke-width="1.3"/>
<path d="M-4.5 -8.5V-3H5V-8.5" stroke-width="1.3"/>
<rect x="1.5" y="-7" width="1.6" height="3" fill="#a5abab" stroke="none"/>
</g>
<!-- reset -->
<g transform="translate(668,183)" fill="none" stroke="#a5abab" stroke-width="1.8">
<path d="M-6.3 -1.5A6.5 6.5 0 0 1 5.6 -3.2"/>
<path d="M6.3 1.5A6.5 6.5 0 0 1 -5.6 3.2"/>
<polygon points="8.6,-3.8 3.4,-4.4 6.8,-0.2" fill="#a5abab" stroke="none"/>
<polygon points="-8.6,3.8 -3.4,4.4 -6.8,0.2" fill="#a5abab" stroke="none"/>
</g>
<!-- hover -->
<g transform="translate(668,214.4)" fill="none" stroke="#a5abab">
<path d="M-6.5 -6.8H6.5V2.8H3L0 6.8L-3 2.8H-6.5Z" stroke-width="1.2" fill="#eef0f0"/>
<path d="M-4.2 -4.3H4.2M-4.2 -2H4.2M-4.2 0.3H4.2" stroke-width="1.2"/>
</g>
</g>

</svg></body></html>
